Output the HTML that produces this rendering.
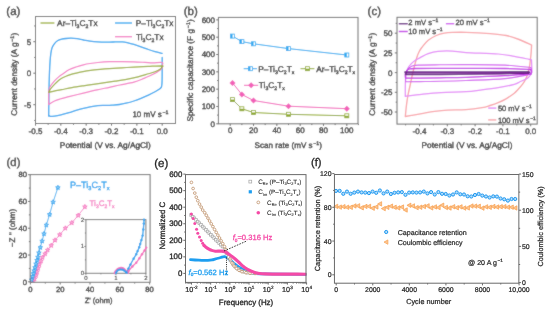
<!DOCTYPE html>
<html><head><meta charset="utf-8"><style>
html,body{margin:0;padding:0;background:#fff;}
svg{display:block;will-change:transform;}
text{font-family:"Liberation Sans", sans-serif;text-rendering:geometricPrecision;}
</style></head><body>
<svg xmlns="http://www.w3.org/2000/svg" width="550" height="311" viewBox="0 0 550 311">
<defs><filter id="bl" x="0" y="0" width="550" height="311" filterUnits="userSpaceOnUse"><feConvolveMatrix order="3" kernelMatrix="1 2 1 2 20 2 1 2 1" divisor="32" edgeMode="duplicate"/></filter></defs>
<rect width="550" height="311" fill="#fff"/>
<g filter="url(#bl)">
<rect width="550" height="311" fill="#fff"/>
<text x="6.3" y="14.9" font-size="11.5" text-anchor="start" fill="#262626" stroke="#262626" stroke-width="0.3"  style=""><tspan>(a)</tspan></text>
<path d="M48.70,115.90 C48.72,114.08 48.77,108.48 48.80,105.00 C48.83,101.52 48.85,98.33 48.90,95.00 C48.95,91.67 49.00,88.83 49.10,85.00 C49.20,81.17 49.33,76.00 49.50,72.00 C49.67,68.00 49.88,64.03 50.10,61.00 C50.32,57.97 50.48,55.97 50.80,53.80 C51.12,51.63 51.38,49.68 52.00,48.00 C52.62,46.32 53.58,44.90 54.50,43.70 C55.42,42.50 56.30,41.55 57.50,40.80 C58.70,40.05 60.28,39.58 61.70,39.20 C63.12,38.82 64.43,38.67 66.00,38.50 C67.57,38.33 69.27,38.17 71.10,38.20 C72.93,38.23 74.95,38.40 77.00,38.70 C79.05,39.00 81.23,39.60 83.40,40.00 C85.57,40.40 87.58,40.78 90.00,41.10 C92.42,41.42 95.40,41.72 97.90,41.90 C100.40,42.08 102.48,42.18 105.00,42.20 C107.52,42.22 110.10,42.05 113.00,42.00 C115.90,41.95 119.90,41.77 122.40,41.90 C124.90,42.03 126.08,42.38 128.00,42.80 C129.92,43.22 131.73,43.73 133.90,44.40 C136.07,45.07 138.58,45.95 141.00,46.80 C143.42,47.65 146.07,48.70 148.40,49.50 C150.73,50.30 152.72,50.97 155.00,51.60 C157.28,52.23 160.92,53.02 162.10,53.30" stroke="#2aa3ef" stroke-width="1.3" fill="none" stroke-linejoin="round" stroke-linecap="round" />
<path d="M162.20,57.40 C162.20,59.50 162.22,66.23 162.20,70.00 C162.18,73.77 162.17,77.50 162.10,80.00 C162.03,82.50 162.03,83.67 161.80,85.00 C161.57,86.33 161.83,86.87 160.70,88.00 C159.57,89.13 157.05,90.60 155.00,91.80 C152.95,93.00 150.73,94.10 148.40,95.20 C146.07,96.30 143.42,97.43 141.00,98.40 C138.58,99.37 136.40,100.20 133.90,101.00 C131.40,101.80 128.40,102.62 126.00,103.20 C123.60,103.78 121.83,104.18 119.50,104.50 C117.17,104.82 114.42,104.95 112.00,105.10 C109.58,105.25 107.35,105.32 105.00,105.40 C102.65,105.48 100.40,105.37 97.90,105.60 C95.40,105.83 92.42,106.35 90.00,106.80 C87.58,107.25 85.73,107.70 83.40,108.30 C81.07,108.90 78.42,109.68 76.00,110.40 C73.58,111.12 71.40,111.85 68.90,112.60 C66.40,113.35 63.40,114.30 61.00,114.90 C58.60,115.50 56.25,115.97 54.50,116.20 C52.75,116.43 51.47,116.35 50.50,116.30 C49.53,116.25 49.00,115.97 48.70,115.90" stroke="#2aa3ef" stroke-width="1.3" fill="none" stroke-linejoin="round" stroke-linecap="round" />
<path d="M48.70,104.60 C48.70,103.33 48.68,99.43 48.70,97.00 C48.72,94.57 48.50,91.83 48.80,90.00 C49.10,88.17 49.55,87.53 50.50,86.00 C51.45,84.47 53.08,82.37 54.50,80.80 C55.92,79.23 57.57,77.77 59.00,76.60 C60.43,75.43 61.45,74.93 63.10,73.80 C64.75,72.67 66.75,70.93 68.90,69.80 C71.05,68.67 73.58,67.83 76.00,67.00 C78.42,66.17 81.07,65.38 83.40,64.80 C85.73,64.22 87.58,63.88 90.00,63.50 C92.42,63.12 94.67,62.80 97.90,62.50 C101.13,62.20 105.38,61.85 109.40,61.70 C113.42,61.55 117.92,61.58 122.00,61.60 C126.08,61.62 130.07,61.67 133.90,61.80 C137.73,61.93 141.87,62.22 145.00,62.40 C148.13,62.58 149.85,62.88 152.70,62.90 C155.55,62.92 160.52,62.07 162.10,62.50 C163.68,62.93 162.20,64.53 162.20,65.50 C162.20,66.47 162.63,67.42 162.10,68.30 C161.57,69.18 160.08,70.02 159.00,70.80 C157.92,71.58 157.10,72.17 155.60,73.00 C154.10,73.83 151.93,74.90 150.00,75.80 C148.07,76.70 146.68,77.33 144.00,78.40 C141.32,79.47 137.90,81.10 133.90,82.20 C129.90,83.30 124.08,84.15 120.00,85.00 C115.92,85.85 113.23,86.48 109.40,87.30 C105.57,88.12 101.33,88.93 97.00,89.90 C92.67,90.87 88.08,91.97 83.40,93.10 C78.72,94.23 72.80,95.72 68.90,96.70 C65.00,97.68 62.40,98.28 60.00,99.00 C57.60,99.72 56.38,100.07 54.50,101.00 C52.62,101.93 49.67,104.00 48.70,104.60" stroke="#f47cc4" stroke-width="1.2" fill="none" stroke-linejoin="round" stroke-linecap="round" />
<path d="M48.70,92.40 C49.00,91.83 49.53,90.33 50.50,89.00 C51.47,87.67 53.12,85.85 54.50,84.40 C55.88,82.95 57.60,81.32 58.80,80.30 C60.00,79.28 60.50,78.98 61.70,78.30 C62.90,77.62 64.55,76.82 66.00,76.20 C67.45,75.58 68.70,75.12 70.40,74.60 C72.10,74.08 74.10,73.60 76.20,73.10 C78.30,72.60 80.60,72.05 83.00,71.60 C85.40,71.15 87.77,70.77 90.60,70.40 C93.43,70.03 96.87,69.70 100.00,69.40 C103.13,69.10 105.73,68.87 109.40,68.60 C113.07,68.33 117.92,68.05 122.00,67.80 C126.08,67.55 129.57,67.33 133.90,67.10 C138.23,66.87 143.30,66.62 148.00,66.40 C152.70,66.18 159.75,65.73 162.10,65.80 C164.45,65.87 162.45,66.22 162.10,66.80 C161.75,67.38 161.18,68.47 160.00,69.30 C158.82,70.13 156.93,71.05 155.00,71.80 C153.07,72.55 151.23,72.95 148.40,73.80 C145.57,74.65 141.87,75.93 138.00,76.90 C134.13,77.87 129.03,78.88 125.20,79.60 C121.37,80.32 118.37,80.70 115.00,81.20 C111.63,81.70 108.33,82.12 105.00,82.60 C101.67,83.08 98.60,83.57 95.00,84.10 C91.40,84.63 87.23,85.22 83.40,85.80 C79.57,86.38 75.62,86.97 72.00,87.60 C68.38,88.23 64.70,89.02 61.70,89.60 C58.70,90.18 56.17,90.63 54.00,91.10 C51.83,91.57 49.58,92.18 48.70,92.40" stroke="#9aae3a" stroke-width="1.2" fill="none" stroke-linejoin="round" stroke-linecap="round" />
<rect x="35.5" y="16.5" width="140.0" height="107.0" fill="none" stroke="#6a6a6a" stroke-width="1"/>
<line x1="35.50" y1="123.50" x2="35.50" y2="125.70" stroke="#6a6a6a" stroke-width="1" />
<line x1="60.84" y1="123.50" x2="60.84" y2="125.70" stroke="#6a6a6a" stroke-width="1" />
<line x1="86.18" y1="123.50" x2="86.18" y2="125.70" stroke="#6a6a6a" stroke-width="1" />
<line x1="111.52" y1="123.50" x2="111.52" y2="125.70" stroke="#6a6a6a" stroke-width="1" />
<line x1="136.86" y1="123.50" x2="136.86" y2="125.70" stroke="#6a6a6a" stroke-width="1" />
<line x1="162.20" y1="123.50" x2="162.20" y2="125.70" stroke="#6a6a6a" stroke-width="1" />
<line x1="48.17" y1="123.50" x2="48.17" y2="124.80" stroke="#6a6a6a" stroke-width="1" />
<line x1="73.51" y1="123.50" x2="73.51" y2="124.80" stroke="#6a6a6a" stroke-width="1" />
<line x1="98.85" y1="123.50" x2="98.85" y2="124.80" stroke="#6a6a6a" stroke-width="1" />
<line x1="124.19" y1="123.50" x2="124.19" y2="124.80" stroke="#6a6a6a" stroke-width="1" />
<line x1="149.53" y1="123.50" x2="149.53" y2="124.80" stroke="#6a6a6a" stroke-width="1" />
<text x="35.5" y="133.5" font-size="8" text-anchor="middle" fill="#262626" stroke="#262626" stroke-width="0.3"  style=""><tspan>-0.5</tspan></text>
<text x="60.839999999999996" y="133.5" font-size="8" text-anchor="middle" fill="#262626" stroke="#262626" stroke-width="0.3"  style=""><tspan>-0.4</tspan></text>
<text x="86.18" y="133.5" font-size="8" text-anchor="middle" fill="#262626" stroke="#262626" stroke-width="0.3"  style=""><tspan>-0.3</tspan></text>
<text x="111.52" y="133.5" font-size="8" text-anchor="middle" fill="#262626" stroke="#262626" stroke-width="0.3"  style=""><tspan>-0.2</tspan></text>
<text x="136.86" y="133.5" font-size="8" text-anchor="middle" fill="#262626" stroke="#262626" stroke-width="0.3"  style=""><tspan>-0.1</tspan></text>
<text x="162.2" y="133.5" font-size="8" text-anchor="middle" fill="#262626" stroke="#262626" stroke-width="0.3"  style=""><tspan>0.0</tspan></text>
<line x1="35.50" y1="104.70" x2="33.30" y2="104.70" stroke="#6a6a6a" stroke-width="1" />
<line x1="35.50" y1="73.20" x2="33.30" y2="73.20" stroke="#6a6a6a" stroke-width="1" />
<line x1="35.50" y1="41.70" x2="33.30" y2="41.70" stroke="#6a6a6a" stroke-width="1" />
<line x1="35.50" y1="120.45" x2="34.20" y2="120.45" stroke="#6a6a6a" stroke-width="1" />
<line x1="35.50" y1="88.95" x2="34.20" y2="88.95" stroke="#6a6a6a" stroke-width="1" />
<line x1="35.50" y1="57.45" x2="34.20" y2="57.45" stroke="#6a6a6a" stroke-width="1" />
<line x1="35.50" y1="25.95" x2="34.20" y2="25.95" stroke="#6a6a6a" stroke-width="1" />
<text x="31.2" y="107.60000000000001" font-size="8" text-anchor="end" fill="#262626" stroke="#262626" stroke-width="0.3"  style=""><tspan>-5</tspan></text>
<text x="31.2" y="76.10000000000001" font-size="8" text-anchor="end" fill="#262626" stroke="#262626" stroke-width="0.3"  style=""><tspan>0</tspan></text>
<text x="31.2" y="44.6" font-size="8" text-anchor="end" fill="#262626" stroke="#262626" stroke-width="0.3"  style=""><tspan>5</tspan></text>
<text x="105.3" y="148.3" font-size="8.3" text-anchor="middle" fill="#262626" stroke="#262626" stroke-width="0.3"  style=""><tspan>Potential (V vs. Ag/AgCl)</tspan></text>
<text x="17.4" y="74.3" font-size="8.3" text-anchor="middle" fill="#262626" stroke="#262626" stroke-width="0.3" transform="rotate(-90 17.4 74.3)"  style=""><tspan>Current density (A g</tspan><tspan dy="-3.15" dx="0.66" font-size="5.48">−1</tspan><tspan dy="3.15">)</tspan></text>
<line x1="40.50" y1="23.00" x2="54.40" y2="23.00" stroke="#9aae3a" stroke-width="1.3" />
<text x="57.1" y="26" font-size="8.3" text-anchor="start" fill="#262626" stroke="#262626" stroke-width="0.3"  style=""><tspan>Ar–Ti</tspan><tspan dy="1.83" font-size="5.15">3</tspan><tspan dy="-1.83">C</tspan><tspan dy="1.83" font-size="5.15">2</tspan><tspan dy="-1.83">Tx</tspan></text>
<line x1="115.00" y1="23.00" x2="132.00" y2="23.00" stroke="#2aa3ef" stroke-width="1.3" />
<text x="135.8" y="26" font-size="8.3" text-anchor="start" fill="#262626" stroke="#262626" stroke-width="0.3"  style=""><tspan>P–Ti</tspan><tspan dy="1.83" font-size="5.15">3</tspan><tspan dy="-1.83">C</tspan><tspan dy="1.83" font-size="5.15">2</tspan><tspan dy="-1.83">Tx</tspan></text>
<line x1="115.00" y1="36.70" x2="132.00" y2="36.70" stroke="#f47cc4" stroke-width="1.3" />
<text x="136" y="39.7" font-size="8.3" text-anchor="start" fill="#262626" stroke="#262626" stroke-width="0.3"  style=""><tspan>Ti</tspan><tspan dy="1.83" font-size="5.15">3</tspan><tspan dy="-1.83">C</tspan><tspan dy="1.83" font-size="5.15">2</tspan><tspan dy="-1.83">Tx</tspan></text>
<text x="132.4" y="116.7" font-size="8.0" text-anchor="start" fill="#262626" stroke="#262626" stroke-width="0.3"  style=""><tspan>10 mV s</tspan><tspan dy="-3.04" dx="0.64" font-size="5.28">−1</tspan></text>
<text x="183.7" y="14.9" font-size="11.5" text-anchor="start" fill="#262626" stroke="#262626" stroke-width="0.3"  style=""><tspan>(b)</tspan></text>
<path d="M232.53,36.10 L241.86,41.60 L253.52,43.80 L288.50,48.60 L346.80,55.00" stroke="#2aa8f0" stroke-width="1" fill="none"/>
<path d="M232.53,82.90 L241.86,94.50 L253.52,100.50 L288.50,106.20 L346.80,108.70" stroke="#f25fb8" stroke-width="1" fill="none"/>
<path d="M232.53,99.60 L241.86,108.80 L253.52,112.50 L288.50,114.30 L346.80,115.80" stroke="#8da828" stroke-width="1" fill="none"/>
<rect x="230.53" y="34.10" width="4.0" height="4.0" fill="#fff" stroke="#2aa8f0" stroke-width="0.8"/>
<rect x="230.53" y="34.10" width="2.00" height="4.0" fill="#2aa8f0"/>
<rect x="239.86" y="39.60" width="4.0" height="4.0" fill="#fff" stroke="#2aa8f0" stroke-width="0.8"/>
<rect x="239.86" y="39.60" width="2.00" height="4.0" fill="#2aa8f0"/>
<rect x="251.52" y="41.80" width="4.0" height="4.0" fill="#fff" stroke="#2aa8f0" stroke-width="0.8"/>
<rect x="251.52" y="41.80" width="2.00" height="4.0" fill="#2aa8f0"/>
<rect x="286.50" y="46.60" width="4.0" height="4.0" fill="#fff" stroke="#2aa8f0" stroke-width="0.8"/>
<rect x="286.50" y="46.60" width="2.00" height="4.0" fill="#2aa8f0"/>
<rect x="344.80" y="53.00" width="4.0" height="4.0" fill="#fff" stroke="#2aa8f0" stroke-width="0.8"/>
<rect x="344.80" y="53.00" width="2.00" height="4.0" fill="#2aa8f0"/>
<path d="M232.53,79.90 L235.53,82.90 L232.53,85.90 L229.53,82.90Z" fill="#f25fb8"/>
<path d="M241.86,91.50 L244.86,94.50 L241.86,97.50 L238.86,94.50Z" fill="#f25fb8"/>
<path d="M253.52,97.50 L256.52,100.50 L253.52,103.50 L250.52,100.50Z" fill="#f25fb8"/>
<path d="M288.50,103.20 L291.50,106.20 L288.50,109.20 L285.50,106.20Z" fill="#f25fb8"/>
<path d="M346.80,105.70 L349.80,108.70 L346.80,111.70 L343.80,108.70Z" fill="#f25fb8"/>
<rect x="230.53" y="97.60" width="4.0" height="4.0" fill="#fff" stroke="#8da828" stroke-width="0.8"/>
<rect x="230.53" y="99.60" width="4.0" height="2.00" fill="#8da828"/>
<rect x="239.86" y="106.80" width="4.0" height="4.0" fill="#fff" stroke="#8da828" stroke-width="0.8"/>
<rect x="239.86" y="108.80" width="4.0" height="2.00" fill="#8da828"/>
<rect x="251.52" y="110.50" width="4.0" height="4.0" fill="#fff" stroke="#8da828" stroke-width="0.8"/>
<rect x="251.52" y="112.50" width="4.0" height="2.00" fill="#8da828"/>
<rect x="286.50" y="112.30" width="4.0" height="4.0" fill="#fff" stroke="#8da828" stroke-width="0.8"/>
<rect x="286.50" y="114.30" width="4.0" height="2.00" fill="#8da828"/>
<rect x="344.80" y="113.80" width="4.0" height="4.0" fill="#fff" stroke="#8da828" stroke-width="0.8"/>
<rect x="344.80" y="115.80" width="4.0" height="2.00" fill="#8da828"/>
<rect x="218.4" y="17.4" width="139.6" height="106.4" fill="none" stroke="#6a6a6a" stroke-width="1"/>
<line x1="230.20" y1="123.80" x2="230.20" y2="126.00" stroke="#6a6a6a" stroke-width="1" />
<line x1="253.52" y1="123.80" x2="253.52" y2="126.00" stroke="#6a6a6a" stroke-width="1" />
<line x1="276.84" y1="123.80" x2="276.84" y2="126.00" stroke="#6a6a6a" stroke-width="1" />
<line x1="300.16" y1="123.80" x2="300.16" y2="126.00" stroke="#6a6a6a" stroke-width="1" />
<line x1="323.48" y1="123.80" x2="323.48" y2="126.00" stroke="#6a6a6a" stroke-width="1" />
<line x1="346.80" y1="123.80" x2="346.80" y2="126.00" stroke="#6a6a6a" stroke-width="1" />
<line x1="241.86" y1="123.80" x2="241.86" y2="125.10" stroke="#6a6a6a" stroke-width="1" />
<line x1="265.18" y1="123.80" x2="265.18" y2="125.10" stroke="#6a6a6a" stroke-width="1" />
<line x1="288.50" y1="123.80" x2="288.50" y2="125.10" stroke="#6a6a6a" stroke-width="1" />
<line x1="311.82" y1="123.80" x2="311.82" y2="125.10" stroke="#6a6a6a" stroke-width="1" />
<line x1="335.14" y1="123.80" x2="335.14" y2="125.10" stroke="#6a6a6a" stroke-width="1" />
<line x1="358.46" y1="123.80" x2="358.46" y2="125.10" stroke="#6a6a6a" stroke-width="1" />
<text x="230.2" y="133.2" font-size="8" text-anchor="middle" fill="#262626" stroke="#262626" stroke-width="0.3"  style=""><tspan>0</tspan></text>
<text x="253.51999999999998" y="133.2" font-size="8" text-anchor="middle" fill="#262626" stroke="#262626" stroke-width="0.3"  style=""><tspan>20</tspan></text>
<text x="276.84" y="133.2" font-size="8" text-anchor="middle" fill="#262626" stroke="#262626" stroke-width="0.3"  style=""><tspan>40</tspan></text>
<text x="300.15999999999997" y="133.2" font-size="8" text-anchor="middle" fill="#262626" stroke="#262626" stroke-width="0.3"  style=""><tspan>60</tspan></text>
<text x="323.48" y="133.2" font-size="8" text-anchor="middle" fill="#262626" stroke="#262626" stroke-width="0.3"  style=""><tspan>80</tspan></text>
<text x="346.79999999999995" y="133.2" font-size="8" text-anchor="middle" fill="#262626" stroke="#262626" stroke-width="0.3"  style=""><tspan>100</tspan></text>
<line x1="218.40" y1="123.80" x2="216.20" y2="123.80" stroke="#6a6a6a" stroke-width="1" />
<line x1="218.40" y1="106.48" x2="216.20" y2="106.48" stroke="#6a6a6a" stroke-width="1" />
<line x1="218.40" y1="89.16" x2="216.20" y2="89.16" stroke="#6a6a6a" stroke-width="1" />
<line x1="218.40" y1="71.84" x2="216.20" y2="71.84" stroke="#6a6a6a" stroke-width="1" />
<line x1="218.40" y1="54.52" x2="216.20" y2="54.52" stroke="#6a6a6a" stroke-width="1" />
<line x1="218.40" y1="37.20" x2="216.20" y2="37.20" stroke="#6a6a6a" stroke-width="1" />
<line x1="218.40" y1="19.88" x2="216.20" y2="19.88" stroke="#6a6a6a" stroke-width="1" />
<line x1="218.40" y1="115.14" x2="217.10" y2="115.14" stroke="#6a6a6a" stroke-width="1" />
<line x1="218.40" y1="97.82" x2="217.10" y2="97.82" stroke="#6a6a6a" stroke-width="1" />
<line x1="218.40" y1="80.50" x2="217.10" y2="80.50" stroke="#6a6a6a" stroke-width="1" />
<line x1="218.40" y1="63.18" x2="217.10" y2="63.18" stroke="#6a6a6a" stroke-width="1" />
<line x1="218.40" y1="45.86" x2="217.10" y2="45.86" stroke="#6a6a6a" stroke-width="1" />
<line x1="218.40" y1="28.54" x2="217.10" y2="28.54" stroke="#6a6a6a" stroke-width="1" />
<text x="215" y="126.7" font-size="8" text-anchor="end" fill="#262626" stroke="#262626" stroke-width="0.3"  style=""><tspan>0</tspan></text>
<text x="215" y="109.38" font-size="8" text-anchor="end" fill="#262626" stroke="#262626" stroke-width="0.3"  style=""><tspan>100</tspan></text>
<text x="215" y="92.06" font-size="8" text-anchor="end" fill="#262626" stroke="#262626" stroke-width="0.3"  style=""><tspan>200</tspan></text>
<text x="215" y="74.74000000000001" font-size="8" text-anchor="end" fill="#262626" stroke="#262626" stroke-width="0.3"  style=""><tspan>300</tspan></text>
<text x="215" y="57.419999999999995" font-size="8" text-anchor="end" fill="#262626" stroke="#262626" stroke-width="0.3"  style=""><tspan>400</tspan></text>
<text x="215" y="40.1" font-size="8" text-anchor="end" fill="#262626" stroke="#262626" stroke-width="0.3"  style=""><tspan>500</tspan></text>
<text x="215" y="22.779999999999994" font-size="8" text-anchor="end" fill="#262626" stroke="#262626" stroke-width="0.3"  style=""><tspan>600</tspan></text>
<text x="288.3" y="148.3" font-size="8.1" text-anchor="middle" fill="#262626" stroke="#262626" stroke-width="0.3"  style=""><tspan>Scan rate (mV s</tspan><tspan dy="-3.08" dx="0.65" font-size="5.35">−1</tspan><tspan dy="3.08">)</tspan></text>
<text x="193.3" y="70.4" font-size="8.3" text-anchor="middle" fill="#262626" stroke="#262626" stroke-width="0.3" transform="rotate(-90 193.3 70.4)"  style=""><tspan>Specific capacitance (F g</tspan><tspan dy="-3.15" dx="0.66" font-size="5.48">−1</tspan><tspan dy="3.15">)</tspan></text>
<line x1="243.70" y1="68.70" x2="257.00" y2="68.70" stroke="#2aa8f0" stroke-width="1" />
<rect x="248.40" y="66.70" width="4.0" height="4.0" fill="#fff" stroke="#2aa8f0" stroke-width="0.8"/>
<rect x="248.40" y="66.70" width="2.00" height="4.0" fill="#2aa8f0"/>
<text x="258.2" y="71.7" font-size="8.3" text-anchor="start" fill="#262626" stroke="#262626" stroke-width="0.3"  style=""><tspan>P–Ti</tspan><tspan dy="1.83" font-size="5.15">3</tspan><tspan dy="-1.83">C</tspan><tspan dy="1.83" font-size="5.15">2</tspan><tspan dy="-1.83">T</tspan><tspan dy="1.83" font-size="5.15">x</tspan></text>
<line x1="300.50" y1="68.70" x2="314.40" y2="68.70" stroke="#8da828" stroke-width="1" />
<rect x="305.50" y="66.70" width="4.0" height="4.0" fill="#fff" stroke="#8da828" stroke-width="0.8"/>
<rect x="305.50" y="68.70" width="4.0" height="2.00" fill="#8da828"/>
<text x="316.3" y="71.7" font-size="8.3" text-anchor="start" fill="#262626" stroke="#262626" stroke-width="0.3"  style=""><tspan>Ar–Ti</tspan><tspan dy="1.83" font-size="5.15">3</tspan><tspan dy="-1.83">C</tspan><tspan dy="1.83" font-size="5.15">2</tspan><tspan dy="-1.83">T</tspan><tspan dy="1.83" font-size="5.15">x</tspan></text>
<line x1="244.00" y1="85.30" x2="258.20" y2="85.30" stroke="#f25fb8" stroke-width="1" />
<path d="M251.10,82.30 L254.10,85.30 L251.10,88.30 L248.10,85.30Z" fill="#f25fb8"/>
<text x="258.8" y="88.3" font-size="8.3" text-anchor="start" fill="#262626" stroke="#262626" stroke-width="0.3"  style=""><tspan>Ti</tspan><tspan dy="1.83" font-size="5.15">3</tspan><tspan dy="-1.83">C</tspan><tspan dy="1.83" font-size="5.15">2</tspan><tspan dy="-1.83">T</tspan><tspan dy="1.83" font-size="5.15">x</tspan></text>
<text x="367.6" y="14.9" font-size="11.5" text-anchor="start" fill="#262626" stroke="#262626" stroke-width="0.3"  style=""><tspan>(c)</tspan></text>
<path d="M405.30,116.50 C405.50,114.58 406.05,108.58 406.50,105.00 C406.95,101.42 407.38,98.33 408.00,95.00 C408.62,91.67 409.37,88.83 410.20,85.00 C411.03,81.17 411.88,76.63 413.00,72.00 C414.12,67.37 415.82,60.70 416.90,57.20 C417.98,53.70 418.68,52.62 419.50,51.00 C420.32,49.38 420.35,49.28 421.80,47.50 C423.25,45.72 425.78,42.30 428.20,40.30 C430.62,38.30 433.62,36.68 436.30,35.50 C438.98,34.32 441.62,33.72 444.30,33.20 C446.98,32.68 448.78,32.55 452.40,32.40 C456.02,32.25 459.72,32.10 466.00,32.30 C472.28,32.50 483.40,33.07 490.10,33.60 C496.80,34.13 501.37,34.52 506.20,35.50 C511.03,36.48 514.87,37.90 519.10,39.50 C523.33,41.10 529.52,44.17 531.60,45.10 L531.60,45.10 C531.53,46.25 531.37,49.85 531.20,52.00 C531.03,54.15 530.87,55.67 530.60,58.00 C530.33,60.33 530.02,63.60 529.60,66.00 C529.18,68.40 528.70,70.32 528.10,72.40 C527.50,74.48 526.88,76.58 526.00,78.50 C525.12,80.42 524.13,82.07 522.80,83.90 C521.47,85.73 519.42,87.95 518.00,89.50 C516.58,91.05 516.30,91.65 514.30,93.20 C512.30,94.75 508.68,97.23 506.00,98.80 C503.32,100.37 500.87,101.48 498.20,102.60 C495.53,103.72 492.68,104.67 490.00,105.50 C487.32,106.33 486.10,106.92 482.10,107.60 C478.10,108.28 471.77,109.18 466.00,109.60 C460.23,110.02 452.73,109.80 447.50,110.10 C442.27,110.40 438.90,110.82 434.60,111.40 C430.30,111.98 425.47,112.95 421.70,113.60 C417.93,114.25 414.73,114.82 412.00,115.30 C409.27,115.78 406.42,116.30 405.30,116.50" stroke="#f8a4aa" stroke-width="1.35" fill="none" stroke-linejoin="round" stroke-linecap="round" />
<path d="M405.30,96.30 C405.30,94.92 405.27,90.72 405.30,88.00 C405.33,85.28 405.35,82.33 405.50,80.00 C405.65,77.67 405.78,76.00 406.20,74.00 C406.62,72.00 407.20,69.67 408.00,68.00 C408.80,66.33 409.83,65.25 411.00,64.00 C412.17,62.75 413.47,61.57 415.00,60.50 C416.53,59.43 418.00,58.73 420.20,57.60 C422.40,56.47 425.25,54.73 428.20,53.70 C431.15,52.67 433.87,51.83 437.90,51.40 C441.93,50.97 447.72,50.90 452.40,51.10 C457.08,51.30 458.37,52.12 466.00,52.60 C473.63,53.08 490.15,53.37 498.20,54.00 C506.25,54.63 509.15,55.52 514.30,56.40 C519.45,57.28 526.23,58.73 529.10,59.30 C531.97,59.87 531.10,59.72 531.50,59.80 L531.50,59.80 C531.55,61.08 531.72,65.40 531.80,67.50 C531.88,69.60 531.97,71.58 532.00,72.40 L532.00,72.40 C531.35,73.28 530.18,76.10 528.10,77.70 C526.02,79.30 521.80,80.90 519.50,82.00 C517.20,83.10 517.85,83.35 514.30,84.30 C510.75,85.25 503.92,86.72 498.20,87.70 C492.48,88.68 485.37,89.53 480.00,90.20 C474.63,90.87 472.50,91.30 466.00,91.70 C459.50,92.10 448.38,92.17 441.00,92.60 C433.62,93.03 427.65,93.68 421.70,94.30 C415.75,94.92 408.03,95.97 405.30,96.30 L405.30,96.30 C405.30,96.30 405.30,96.30 405.30,96.30" stroke="#e48af7" stroke-width="1.25" fill="none" stroke-linejoin="round" stroke-linecap="round" />
<path d="M405.60,81.80 C405.57,80.83 405.40,77.47 405.40,76.00 C405.40,74.53 405.25,74.08 405.60,73.00 C405.95,71.92 406.83,70.40 407.50,69.50 C408.17,68.60 408.68,68.22 409.60,67.60 C410.52,66.98 411.52,66.22 413.00,65.80 C414.48,65.38 414.00,65.27 418.50,65.10 C423.00,64.93 432.08,64.88 440.00,64.80 C447.92,64.72 455.17,64.55 466.00,64.60 C476.83,64.65 494.17,64.62 505.00,65.10 C515.83,65.58 526.67,67.10 531.00,67.50 L531.00,67.50 C531.08,68.08 531.45,69.87 531.50,71.00 C531.55,72.13 531.33,73.75 531.30,74.30 L531.30,74.30 C526.92,75.02 515.88,77.57 505.00,78.60 C494.12,79.63 476.83,80.05 466.00,80.50 C455.17,80.95 447.67,81.12 440.00,81.30 C432.33,81.48 425.73,81.52 420.00,81.60 C414.27,81.68 408.00,81.77 405.60,81.80" stroke="#d35cf0" stroke-width="1.15" fill="none" stroke-linejoin="round" stroke-linecap="round" />
<path d="M405.60,78.20 C405.57,77.58 405.25,75.70 405.40,74.50 C405.55,73.30 405.90,71.88 406.50,71.00 C407.10,70.12 407.58,69.62 409.00,69.20 C410.42,68.78 409.83,68.63 415.00,68.50 C420.17,68.37 431.50,68.42 440.00,68.40 C448.50,68.38 455.17,68.38 466.00,68.40 C476.83,68.42 494.17,68.32 505.00,68.50 C515.83,68.68 526.67,69.33 531.00,69.50 L531.00,69.50 C531.05,69.88 531.30,71.08 531.30,71.80 C531.30,72.52 531.05,73.47 531.00,73.80 L531.00,73.80 C526.67,74.12 515.83,75.12 505.00,75.70 C494.17,76.28 476.83,76.95 466.00,77.30 C455.17,77.65 447.67,77.67 440.00,77.80 C432.33,77.93 425.73,78.03 420.00,78.10 C414.27,78.17 408.00,78.18 405.60,78.20" stroke="#c22ee6" stroke-width="1.3" fill="none" stroke-linejoin="round" stroke-linecap="round" />
<path d="M405.60,74.40 C405.63,74.10 405.40,73.00 405.80,72.60 C406.20,72.20 402.30,72.12 408.00,72.00 C413.70,71.88 428.00,71.90 440.00,71.90 C452.00,71.90 465.23,72.03 480.00,72.00 C494.77,71.97 520.50,71.75 528.60,71.70 L528.60,71.70 C528.75,71.82 529.50,72.15 529.50,72.40 C529.50,72.65 528.75,73.07 528.60,73.20 L528.60,73.20 C520.50,73.33 494.77,73.80 480.00,74.00 C465.23,74.20 451.67,74.30 440.00,74.40 C428.33,74.50 415.73,74.60 410.00,74.60 C404.27,74.60 406.33,74.43 405.60,74.40Z" stroke="#6a1a86" stroke-width="1.5" fill="#6a1a86" fill-opacity="0.55" stroke-linejoin="round"/>
<rect x="397.0" y="17.3" width="140.20000000000005" height="106.8" fill="none" stroke="#6a6a6a" stroke-width="1"/>
<line x1="419.50" y1="124.10" x2="419.50" y2="126.30" stroke="#6a6a6a" stroke-width="1" />
<line x1="447.30" y1="124.10" x2="447.30" y2="126.30" stroke="#6a6a6a" stroke-width="1" />
<line x1="475.10" y1="124.10" x2="475.10" y2="126.30" stroke="#6a6a6a" stroke-width="1" />
<line x1="502.90" y1="124.10" x2="502.90" y2="126.30" stroke="#6a6a6a" stroke-width="1" />
<line x1="530.70" y1="124.10" x2="530.70" y2="126.30" stroke="#6a6a6a" stroke-width="1" />
<line x1="405.60" y1="124.10" x2="405.60" y2="125.40" stroke="#6a6a6a" stroke-width="1" />
<line x1="433.40" y1="124.10" x2="433.40" y2="125.40" stroke="#6a6a6a" stroke-width="1" />
<line x1="461.20" y1="124.10" x2="461.20" y2="125.40" stroke="#6a6a6a" stroke-width="1" />
<line x1="489.00" y1="124.10" x2="489.00" y2="125.40" stroke="#6a6a6a" stroke-width="1" />
<line x1="516.80" y1="124.10" x2="516.80" y2="125.40" stroke="#6a6a6a" stroke-width="1" />
<text x="419.50000000000006" y="133.5" font-size="8" text-anchor="middle" fill="#262626" stroke="#262626" stroke-width="0.3"  style=""><tspan>-0.4</tspan></text>
<text x="447.30000000000007" y="133.5" font-size="8" text-anchor="middle" fill="#262626" stroke="#262626" stroke-width="0.3"  style=""><tspan>-0.3</tspan></text>
<text x="475.1" y="133.5" font-size="8" text-anchor="middle" fill="#262626" stroke="#262626" stroke-width="0.3"  style=""><tspan>-0.2</tspan></text>
<text x="502.90000000000003" y="133.5" font-size="8" text-anchor="middle" fill="#262626" stroke="#262626" stroke-width="0.3"  style=""><tspan>-0.1</tspan></text>
<text x="530.7" y="133.5" font-size="8" text-anchor="middle" fill="#262626" stroke="#262626" stroke-width="0.3"  style=""><tspan>0.0</tspan></text>
<line x1="397.00" y1="112.00" x2="394.80" y2="112.00" stroke="#6a6a6a" stroke-width="1" />
<line x1="397.00" y1="92.30" x2="394.80" y2="92.30" stroke="#6a6a6a" stroke-width="1" />
<line x1="397.00" y1="72.60" x2="394.80" y2="72.60" stroke="#6a6a6a" stroke-width="1" />
<line x1="397.00" y1="52.90" x2="394.80" y2="52.90" stroke="#6a6a6a" stroke-width="1" />
<line x1="397.00" y1="33.20" x2="394.80" y2="33.20" stroke="#6a6a6a" stroke-width="1" />
<line x1="397.00" y1="102.15" x2="395.70" y2="102.15" stroke="#6a6a6a" stroke-width="1" />
<line x1="397.00" y1="82.45" x2="395.70" y2="82.45" stroke="#6a6a6a" stroke-width="1" />
<line x1="397.00" y1="62.75" x2="395.70" y2="62.75" stroke="#6a6a6a" stroke-width="1" />
<line x1="397.00" y1="43.05" x2="395.70" y2="43.05" stroke="#6a6a6a" stroke-width="1" />
<line x1="397.00" y1="23.35" x2="395.70" y2="23.35" stroke="#6a6a6a" stroke-width="1" />
<text x="392.5" y="114.9" font-size="8" text-anchor="end" fill="#262626" stroke="#262626" stroke-width="0.3"  style=""><tspan>-50</tspan></text>
<text x="392.5" y="95.2" font-size="8" text-anchor="end" fill="#262626" stroke="#262626" stroke-width="0.3"  style=""><tspan>-25</tspan></text>
<text x="392.5" y="75.5" font-size="8" text-anchor="end" fill="#262626" stroke="#262626" stroke-width="0.3"  style=""><tspan>0</tspan></text>
<text x="392.5" y="55.79999999999999" font-size="8" text-anchor="end" fill="#262626" stroke="#262626" stroke-width="0.3"  style=""><tspan>25</tspan></text>
<text x="392.5" y="36.099999999999994" font-size="8" text-anchor="end" fill="#262626" stroke="#262626" stroke-width="0.3"  style=""><tspan>50</tspan></text>
<text x="467" y="148.3" font-size="8.3" text-anchor="middle" fill="#262626" stroke="#262626" stroke-width="0.3"  style=""><tspan>Potential (V vs. Ag/AgCl)</tspan></text>
<text x="375.3" y="74.3" font-size="8.3" text-anchor="middle" fill="#262626" stroke="#262626" stroke-width="0.3" transform="rotate(-90 375.3 74.3)"  style=""><tspan>Current density (A g</tspan><tspan dy="-3.15" dx="0.66" font-size="5.48">−1</tspan><tspan dy="3.15">)</tspan></text>
<line x1="398.80" y1="23.70" x2="407.70" y2="23.70" stroke="#6a1a86" stroke-width="1.4" />
<text x="408.3" y="25.3" font-size="7.6" text-anchor="start" fill="#262626" stroke="#262626" stroke-width="0.3"  style=""><tspan>2 mV s</tspan><tspan dy="-2.89" dx="0.61" font-size="5.02">−1</tspan></text>
<line x1="398.80" y1="31.50" x2="407.70" y2="31.50" stroke="#c22ee6" stroke-width="1.4" />
<text x="408.3" y="34.1" font-size="7.6" text-anchor="start" fill="#262626" stroke="#262626" stroke-width="0.3"  style=""><tspan>10 mV s</tspan><tspan dy="-2.89" dx="0.61" font-size="5.02">−1</tspan></text>
<line x1="445.90" y1="23.70" x2="454.20" y2="23.70" stroke="#d35cf0" stroke-width="1.4" />
<text x="455.6" y="25.3" font-size="7.6" text-anchor="start" fill="#262626" stroke="#262626" stroke-width="0.3"  style=""><tspan>20 mV s</tspan><tspan dy="-2.89" dx="0.61" font-size="5.02">−1</tspan></text>
<line x1="488.20" y1="108.10" x2="496.30" y2="108.10" stroke="#e48af7" stroke-width="1.4" />
<text x="497.9" y="110.8" font-size="7.5" text-anchor="start" fill="#262626" stroke="#262626" stroke-width="0.3"  style=""><tspan>50 mV s</tspan><tspan dy="-2.85" dx="0.60" font-size="4.95">−1</tspan></text>
<line x1="488.20" y1="119.90" x2="496.30" y2="119.90" stroke="#f8a4aa" stroke-width="1.4" />
<text x="497.9" y="122.6" font-size="7.5" text-anchor="start" fill="#262626" stroke="#262626" stroke-width="0.3"  style=""><tspan>100 mV s</tspan><tspan dy="-2.85" dx="0.60" font-size="4.95">−1</tspan></text>
<text x="6.6" y="165.7" font-size="11.3" text-anchor="start" fill="#262626" stroke="#262626" stroke-width="0.3"  style=""><tspan>(d)</tspan></text>
<path d="M33.00,280.50 L34.50,279.10 L36.00,275.50 L37.00,271.90 L38.10,268.30 L39.30,264.60 L41.00,261.00 L42.50,257.40 L45.10,253.80 L47.60,250.10 L51.20,245.50 L55.00,240.20 L59.80,234.70 L65.30,228.20 L71.80,222.80 L78.20,215.40 L84.90,206.80" stroke="#f46cbc" stroke-width="0.8" fill="none"/>
<path d="M31.60,279.90 L32.60,276.50 L33.50,273.60 L34.10,270.70 L35.00,267.50 L36.00,263.90 L37.00,260.30 L37.90,257.10 L38.90,252.80 L40.30,247.50 L42.10,241.10 L44.00,233.80 L46.30,225.10 L49.60,214.50 L53.10,202.10 L57.90,187.60" stroke="#25a0ee" stroke-width="0.8" fill="none"/>
<path d="M33.00,278.10 L33.63,279.63 L35.28,279.76 L34.03,280.83 L34.41,282.44 L33.00,281.58 L31.59,282.44 L31.97,280.83 L30.72,279.76 L32.37,279.63Z" fill="#f9b0d8" stroke="#f46cbc" stroke-width="0.8" stroke-linejoin="round"/>
<path d="M34.50,276.70 L35.13,278.23 L36.78,278.36 L35.53,279.43 L35.91,281.04 L34.50,280.18 L33.09,281.04 L33.47,279.43 L32.22,278.36 L33.87,278.23Z" fill="#f9b0d8" stroke="#f46cbc" stroke-width="0.8" stroke-linejoin="round"/>
<path d="M36.00,273.10 L36.63,274.63 L38.28,274.76 L37.03,275.83 L37.41,277.44 L36.00,276.58 L34.59,277.44 L34.97,275.83 L33.72,274.76 L35.37,274.63Z" fill="#f9b0d8" stroke="#f46cbc" stroke-width="0.8" stroke-linejoin="round"/>
<path d="M37.00,269.50 L37.63,271.03 L39.28,271.16 L38.03,272.23 L38.41,273.84 L37.00,272.98 L35.59,273.84 L35.97,272.23 L34.72,271.16 L36.37,271.03Z" fill="#f9b0d8" stroke="#f46cbc" stroke-width="0.8" stroke-linejoin="round"/>
<path d="M38.10,265.90 L38.73,267.43 L40.38,267.56 L39.13,268.63 L39.51,270.24 L38.10,269.38 L36.69,270.24 L37.07,268.63 L35.82,267.56 L37.47,267.43Z" fill="#f9b0d8" stroke="#f46cbc" stroke-width="0.8" stroke-linejoin="round"/>
<path d="M39.30,262.20 L39.93,263.73 L41.58,263.86 L40.33,264.93 L40.71,266.54 L39.30,265.68 L37.89,266.54 L38.27,264.93 L37.02,263.86 L38.67,263.73Z" fill="#f9b0d8" stroke="#f46cbc" stroke-width="0.8" stroke-linejoin="round"/>
<path d="M41.00,258.60 L41.63,260.13 L43.28,260.26 L42.03,261.33 L42.41,262.94 L41.00,262.08 L39.59,262.94 L39.97,261.33 L38.72,260.26 L40.37,260.13Z" fill="#f9b0d8" stroke="#f46cbc" stroke-width="0.8" stroke-linejoin="round"/>
<path d="M42.50,255.00 L43.13,256.53 L44.78,256.66 L43.53,257.73 L43.91,259.34 L42.50,258.48 L41.09,259.34 L41.47,257.73 L40.22,256.66 L41.87,256.53Z" fill="#f9b0d8" stroke="#f46cbc" stroke-width="0.8" stroke-linejoin="round"/>
<path d="M45.10,251.40 L45.73,252.93 L47.38,253.06 L46.13,254.13 L46.51,255.74 L45.10,254.88 L43.69,255.74 L44.07,254.13 L42.82,253.06 L44.47,252.93Z" fill="#f9b0d8" stroke="#f46cbc" stroke-width="0.8" stroke-linejoin="round"/>
<path d="M47.60,247.70 L48.23,249.23 L49.88,249.36 L48.63,250.43 L49.01,252.04 L47.60,251.18 L46.19,252.04 L46.57,250.43 L45.32,249.36 L46.97,249.23Z" fill="#f9b0d8" stroke="#f46cbc" stroke-width="0.8" stroke-linejoin="round"/>
<path d="M51.20,243.10 L51.83,244.63 L53.48,244.76 L52.23,245.83 L52.61,247.44 L51.20,246.58 L49.79,247.44 L50.17,245.83 L48.92,244.76 L50.57,244.63Z" fill="#f9b0d8" stroke="#f46cbc" stroke-width="0.8" stroke-linejoin="round"/>
<path d="M55.00,237.80 L55.63,239.33 L57.28,239.46 L56.03,240.53 L56.41,242.14 L55.00,241.28 L53.59,242.14 L53.97,240.53 L52.72,239.46 L54.37,239.33Z" fill="#f9b0d8" stroke="#f46cbc" stroke-width="0.8" stroke-linejoin="round"/>
<path d="M59.80,232.30 L60.43,233.83 L62.08,233.96 L60.83,235.03 L61.21,236.64 L59.80,235.78 L58.39,236.64 L58.77,235.03 L57.52,233.96 L59.17,233.83Z" fill="#f9b0d8" stroke="#f46cbc" stroke-width="0.8" stroke-linejoin="round"/>
<path d="M65.30,225.80 L65.93,227.33 L67.58,227.46 L66.33,228.53 L66.71,230.14 L65.30,229.28 L63.89,230.14 L64.27,228.53 L63.02,227.46 L64.67,227.33Z" fill="#f9b0d8" stroke="#f46cbc" stroke-width="0.8" stroke-linejoin="round"/>
<path d="M71.80,220.40 L72.43,221.93 L74.08,222.06 L72.83,223.13 L73.21,224.74 L71.80,223.88 L70.39,224.74 L70.77,223.13 L69.52,222.06 L71.17,221.93Z" fill="#f9b0d8" stroke="#f46cbc" stroke-width="0.8" stroke-linejoin="round"/>
<path d="M78.20,213.00 L78.83,214.53 L80.48,214.66 L79.23,215.73 L79.61,217.34 L78.20,216.48 L76.79,217.34 L77.17,215.73 L75.92,214.66 L77.57,214.53Z" fill="#f9b0d8" stroke="#f46cbc" stroke-width="0.8" stroke-linejoin="round"/>
<path d="M84.90,204.40 L85.53,205.93 L87.18,206.06 L85.93,207.13 L86.31,208.74 L84.90,207.88 L83.49,208.74 L83.87,207.13 L82.62,206.06 L84.27,205.93Z" fill="#f9b0d8" stroke="#f46cbc" stroke-width="0.8" stroke-linejoin="round"/>
<path d="M31.60,277.50 L32.23,279.03 L33.88,279.16 L32.63,280.23 L33.01,281.84 L31.60,280.98 L30.19,281.84 L30.57,280.23 L29.32,279.16 L30.97,279.03Z" fill="#8ccdf7" stroke="#25a0ee" stroke-width="0.8" stroke-linejoin="round"/>
<path d="M32.60,274.10 L33.23,275.63 L34.88,275.76 L33.63,276.83 L34.01,278.44 L32.60,277.58 L31.19,278.44 L31.57,276.83 L30.32,275.76 L31.97,275.63Z" fill="#8ccdf7" stroke="#25a0ee" stroke-width="0.8" stroke-linejoin="round"/>
<path d="M33.50,271.20 L34.13,272.73 L35.78,272.86 L34.53,273.93 L34.91,275.54 L33.50,274.68 L32.09,275.54 L32.47,273.93 L31.22,272.86 L32.87,272.73Z" fill="#8ccdf7" stroke="#25a0ee" stroke-width="0.8" stroke-linejoin="round"/>
<path d="M34.10,268.30 L34.73,269.83 L36.38,269.96 L35.13,271.03 L35.51,272.64 L34.10,271.78 L32.69,272.64 L33.07,271.03 L31.82,269.96 L33.47,269.83Z" fill="#8ccdf7" stroke="#25a0ee" stroke-width="0.8" stroke-linejoin="round"/>
<path d="M35.00,265.10 L35.63,266.63 L37.28,266.76 L36.03,267.83 L36.41,269.44 L35.00,268.58 L33.59,269.44 L33.97,267.83 L32.72,266.76 L34.37,266.63Z" fill="#8ccdf7" stroke="#25a0ee" stroke-width="0.8" stroke-linejoin="round"/>
<path d="M36.00,261.50 L36.63,263.03 L38.28,263.16 L37.03,264.23 L37.41,265.84 L36.00,264.98 L34.59,265.84 L34.97,264.23 L33.72,263.16 L35.37,263.03Z" fill="#8ccdf7" stroke="#25a0ee" stroke-width="0.8" stroke-linejoin="round"/>
<path d="M37.00,257.90 L37.63,259.43 L39.28,259.56 L38.03,260.63 L38.41,262.24 L37.00,261.38 L35.59,262.24 L35.97,260.63 L34.72,259.56 L36.37,259.43Z" fill="#8ccdf7" stroke="#25a0ee" stroke-width="0.8" stroke-linejoin="round"/>
<path d="M37.90,254.70 L38.53,256.23 L40.18,256.36 L38.93,257.43 L39.31,259.04 L37.90,258.18 L36.49,259.04 L36.87,257.43 L35.62,256.36 L37.27,256.23Z" fill="#8ccdf7" stroke="#25a0ee" stroke-width="0.8" stroke-linejoin="round"/>
<path d="M38.90,250.40 L39.53,251.93 L41.18,252.06 L39.93,253.13 L40.31,254.74 L38.90,253.88 L37.49,254.74 L37.87,253.13 L36.62,252.06 L38.27,251.93Z" fill="#8ccdf7" stroke="#25a0ee" stroke-width="0.8" stroke-linejoin="round"/>
<path d="M40.30,245.10 L40.93,246.63 L42.58,246.76 L41.33,247.83 L41.71,249.44 L40.30,248.58 L38.89,249.44 L39.27,247.83 L38.02,246.76 L39.67,246.63Z" fill="#8ccdf7" stroke="#25a0ee" stroke-width="0.8" stroke-linejoin="round"/>
<path d="M42.10,238.70 L42.73,240.23 L44.38,240.36 L43.13,241.43 L43.51,243.04 L42.10,242.18 L40.69,243.04 L41.07,241.43 L39.82,240.36 L41.47,240.23Z" fill="#8ccdf7" stroke="#25a0ee" stroke-width="0.8" stroke-linejoin="round"/>
<path d="M44.00,231.40 L44.63,232.93 L46.28,233.06 L45.03,234.13 L45.41,235.74 L44.00,234.88 L42.59,235.74 L42.97,234.13 L41.72,233.06 L43.37,232.93Z" fill="#8ccdf7" stroke="#25a0ee" stroke-width="0.8" stroke-linejoin="round"/>
<path d="M46.30,222.70 L46.93,224.23 L48.58,224.36 L47.33,225.43 L47.71,227.04 L46.30,226.18 L44.89,227.04 L45.27,225.43 L44.02,224.36 L45.67,224.23Z" fill="#8ccdf7" stroke="#25a0ee" stroke-width="0.8" stroke-linejoin="round"/>
<path d="M49.60,212.10 L50.23,213.63 L51.88,213.76 L50.63,214.83 L51.01,216.44 L49.60,215.58 L48.19,216.44 L48.57,214.83 L47.32,213.76 L48.97,213.63Z" fill="#8ccdf7" stroke="#25a0ee" stroke-width="0.8" stroke-linejoin="round"/>
<path d="M53.10,199.70 L53.73,201.23 L55.38,201.36 L54.13,202.43 L54.51,204.04 L53.10,203.18 L51.69,204.04 L52.07,202.43 L50.82,201.36 L52.47,201.23Z" fill="#8ccdf7" stroke="#25a0ee" stroke-width="0.8" stroke-linejoin="round"/>
<path d="M57.90,185.20 L58.53,186.73 L60.18,186.86 L58.93,187.93 L59.31,189.54 L57.90,188.68 L56.49,189.54 L56.87,187.93 L55.62,186.86 L57.27,186.73Z" fill="#8ccdf7" stroke="#25a0ee" stroke-width="0.8" stroke-linejoin="round"/>
<rect x="30.15" y="174.6" width="119.94999999999999" height="107.70000000000002" fill="none" stroke="#6a6a6a" stroke-width="1"/>
<line x1="30.40" y1="282.30" x2="30.40" y2="284.50" stroke="#6a6a6a" stroke-width="1" />
<line x1="60.20" y1="282.30" x2="60.20" y2="284.50" stroke="#6a6a6a" stroke-width="1" />
<line x1="90.00" y1="282.30" x2="90.00" y2="284.50" stroke="#6a6a6a" stroke-width="1" />
<line x1="119.80" y1="282.30" x2="119.80" y2="284.50" stroke="#6a6a6a" stroke-width="1" />
<line x1="149.60" y1="282.30" x2="149.60" y2="284.50" stroke="#6a6a6a" stroke-width="1" />
<line x1="45.30" y1="282.30" x2="45.30" y2="283.60" stroke="#6a6a6a" stroke-width="1" />
<line x1="75.10" y1="282.30" x2="75.10" y2="283.60" stroke="#6a6a6a" stroke-width="1" />
<line x1="104.90" y1="282.30" x2="104.90" y2="283.60" stroke="#6a6a6a" stroke-width="1" />
<line x1="134.70" y1="282.30" x2="134.70" y2="283.60" stroke="#6a6a6a" stroke-width="1" />
<text x="30.4" y="291.6" font-size="7.6" text-anchor="middle" fill="#262626" stroke="#262626" stroke-width="0.3"  style=""><tspan>0</tspan></text>
<text x="60.2" y="291.6" font-size="7.6" text-anchor="middle" fill="#262626" stroke="#262626" stroke-width="0.3"  style=""><tspan>20</tspan></text>
<text x="90.0" y="291.6" font-size="7.6" text-anchor="middle" fill="#262626" stroke="#262626" stroke-width="0.3"  style=""><tspan>40</tspan></text>
<text x="119.80000000000001" y="291.6" font-size="7.6" text-anchor="middle" fill="#262626" stroke="#262626" stroke-width="0.3"  style=""><tspan>60</tspan></text>
<text x="149.6" y="291.6" font-size="7.6" text-anchor="middle" fill="#262626" stroke="#262626" stroke-width="0.3"  style=""><tspan>80</tspan></text>
<line x1="30.15" y1="281.80" x2="27.95" y2="281.80" stroke="#6a6a6a" stroke-width="1" />
<line x1="30.15" y1="255.02" x2="27.95" y2="255.02" stroke="#6a6a6a" stroke-width="1" />
<line x1="30.15" y1="228.24" x2="27.95" y2="228.24" stroke="#6a6a6a" stroke-width="1" />
<line x1="30.15" y1="201.46" x2="27.95" y2="201.46" stroke="#6a6a6a" stroke-width="1" />
<line x1="30.15" y1="174.68" x2="27.95" y2="174.68" stroke="#6a6a6a" stroke-width="1" />
<line x1="30.15" y1="268.41" x2="28.85" y2="268.41" stroke="#6a6a6a" stroke-width="1" />
<line x1="30.15" y1="241.63" x2="28.85" y2="241.63" stroke="#6a6a6a" stroke-width="1" />
<line x1="30.15" y1="214.85" x2="28.85" y2="214.85" stroke="#6a6a6a" stroke-width="1" />
<line x1="30.15" y1="188.07" x2="28.85" y2="188.07" stroke="#6a6a6a" stroke-width="1" />
<text x="27" y="284.5" font-size="7.6" text-anchor="end" fill="#262626" stroke="#262626" stroke-width="0.3"  style=""><tspan>0</tspan></text>
<text x="27" y="257.72" font-size="7.6" text-anchor="end" fill="#262626" stroke="#262626" stroke-width="0.3"  style=""><tspan>20</tspan></text>
<text x="27" y="230.94" font-size="7.6" text-anchor="end" fill="#262626" stroke="#262626" stroke-width="0.3"  style=""><tspan>40</tspan></text>
<text x="27" y="204.16" font-size="7.6" text-anchor="end" fill="#262626" stroke="#262626" stroke-width="0.3"  style=""><tspan>60</tspan></text>
<text x="27" y="177.38" font-size="7.6" text-anchor="end" fill="#262626" stroke="#262626" stroke-width="0.3"  style=""><tspan>80</tspan></text>
<text x="98.6" y="303" font-size="7.5" text-anchor="middle" fill="#262626" stroke="#262626" stroke-width="0.3"  style=""><tspan>Z' (ohm)</tspan></text>
<text x="14.5" y="228" font-size="8.1" text-anchor="middle" fill="#262626" stroke="#262626" stroke-width="0.3" transform="rotate(-90 14.5 228)"  style=""><tspan>−Z '' (ohm)</tspan></text>
<text x="69.9" y="187.6" font-size="9.1" text-anchor="start" fill="#25a0ee" stroke="#25a0ee" stroke-width="0.3"  style=""><tspan>P–Ti</tspan><tspan dy="2.00" font-size="5.64">3</tspan><tspan dy="-2.00">C</tspan><tspan dy="2.00" font-size="5.64">2</tspan><tspan dy="-2.00">T</tspan><tspan dy="2.00" font-size="5.64">x</tspan></text>
<text x="89.5" y="206.3" font-size="8.0" text-anchor="start" fill="#f584c4" stroke="#f584c4" stroke-width="0.3"  style=""><tspan>Ti</tspan><tspan dy="1.76" font-size="4.96">3</tspan><tspan dy="-1.76">C</tspan><tspan dy="1.76" font-size="4.96">2</tspan><tspan dy="-1.76">T</tspan><tspan dy="1.76" font-size="4.96">x</tspan></text>
<rect x="85.9" y="219.6" width="60.0" height="53.70000000000002" fill="none" stroke="#777" stroke-width="1"/>
<line x1="85.90" y1="273.30" x2="85.90" y2="274.80" stroke="#6a6a6a" stroke-width="1" />
<line x1="115.90" y1="273.30" x2="115.90" y2="274.80" stroke="#6a6a6a" stroke-width="1" />
<line x1="145.90" y1="273.30" x2="145.90" y2="274.80" stroke="#6a6a6a" stroke-width="1" />
<line x1="100.90" y1="273.30" x2="100.90" y2="274.30" stroke="#6a6a6a" stroke-width="1" />
<line x1="130.90" y1="273.30" x2="130.90" y2="274.30" stroke="#6a6a6a" stroke-width="1" />
<text x="85.9" y="279.5" font-size="6" text-anchor="middle" fill="#262626" stroke="#262626" stroke-width="0.08"  style=""><tspan>0</tspan></text>
<text x="115.9" y="279.5" font-size="6" text-anchor="middle" fill="#262626" stroke="#262626" stroke-width="0.08"  style=""><tspan>1</tspan></text>
<text x="145.9" y="279.5" font-size="6" text-anchor="middle" fill="#262626" stroke="#262626" stroke-width="0.08"  style=""><tspan>2</tspan></text>
<line x1="85.90" y1="273.30" x2="84.40" y2="273.30" stroke="#6a6a6a" stroke-width="1" />
<line x1="85.90" y1="246.45" x2="84.40" y2="246.45" stroke="#6a6a6a" stroke-width="1" />
<line x1="85.90" y1="219.60" x2="84.40" y2="219.60" stroke="#6a6a6a" stroke-width="1" />
<line x1="85.90" y1="259.88" x2="84.90" y2="259.88" stroke="#6a6a6a" stroke-width="1" />
<line x1="85.90" y1="233.03" x2="84.90" y2="233.03" stroke="#6a6a6a" stroke-width="1" />
<text x="84.2" y="275.3" font-size="6" text-anchor="end" fill="#262626" stroke="#262626" stroke-width="0.08"  style=""><tspan>0</tspan></text>
<text x="84.2" y="248.45000000000002" font-size="6" text-anchor="end" fill="#262626" stroke="#262626" stroke-width="0.08"  style=""><tspan>1</tspan></text>
<text x="84.2" y="221.60000000000002" font-size="6" text-anchor="end" fill="#262626" stroke="#262626" stroke-width="0.08"  style=""><tspan>2</tspan></text>
<path d="M114.50,273.20 C114.68,272.87 115.10,271.90 115.60,271.20 C116.10,270.50 116.77,269.55 117.50,269.00 C118.23,268.45 119.17,268.07 120.00,267.90 C120.83,267.73 121.75,267.78 122.50,268.00 C123.25,268.22 123.92,268.70 124.50,269.20 C125.08,269.70 125.58,270.43 126.00,271.00 C126.42,271.57 126.67,272.27 127.00,272.60 C127.33,272.93 127.83,272.93 128.00,273.00" stroke="#f46cbc" stroke-width="2.0" fill="none" stroke-linejoin="round" stroke-linecap="round" />
<path d="M127.50,272.80 C127.67,272.50 127.68,272.05 128.50,271.00 C129.32,269.95 131.12,267.88 132.40,266.50 C133.68,265.12 135.03,264.08 136.20,262.70 C137.37,261.32 138.43,259.60 139.40,258.20 C140.37,256.80 141.13,255.60 142.00,254.30 C142.87,253.00 143.90,251.52 144.60,250.40 C145.30,249.28 145.93,248.07 146.20,247.60" stroke="#f46cbc" stroke-width="1.3" fill="none" stroke-linejoin="round" stroke-linecap="round" />
<path d="M115.80,273.20 C115.97,272.88 116.35,271.87 116.80,271.30 C117.25,270.73 117.88,270.12 118.50,269.80 C119.12,269.48 119.78,269.40 120.50,269.40 C121.22,269.40 122.08,269.53 122.80,269.80 C123.52,270.07 124.23,270.57 124.80,271.00 C125.37,271.43 125.85,272.07 126.20,272.40 C126.55,272.73 126.78,272.90 126.90,273.00" stroke="#25a0ee" stroke-width="2.0" fill="none" stroke-linejoin="round" stroke-linecap="round" />
<path d="M126.50,272.60 C126.82,271.93 127.75,269.93 128.40,268.60 C129.05,267.27 129.53,266.23 130.40,264.60 C131.27,262.97 132.63,260.52 133.60,258.80 C134.57,257.08 135.53,255.58 136.20,254.30 C136.87,253.02 137.10,252.28 137.60,251.10 C138.10,249.92 138.77,248.38 139.20,247.20 C139.63,246.02 139.83,245.18 140.20,244.00 C140.57,242.82 141.00,241.50 141.40,240.10 C141.80,238.70 142.28,237.37 142.60,235.60 C142.92,233.83 143.10,231.50 143.30,229.50 C143.50,227.50 143.68,225.25 143.80,223.60 C143.92,221.95 143.97,220.27 144.00,219.60" stroke="#25a0ee" stroke-width="1.3" fill="none" stroke-linejoin="round" stroke-linecap="round" />
<circle cx="128.4" cy="268.6" r="1.2" fill="#25a0ee"/>
<circle cx="130.4" cy="264.6" r="1.2" fill="#25a0ee"/>
<circle cx="133.6" cy="258.8" r="1.2" fill="#25a0ee"/>
<circle cx="136.2" cy="254.3" r="1.2" fill="#25a0ee"/>
<circle cx="137.6" cy="251.1" r="1.2" fill="#25a0ee"/>
<circle cx="139.2" cy="247.2" r="1.2" fill="#25a0ee"/>
<circle cx="140.2" cy="244.0" r="1.2" fill="#25a0ee"/>
<circle cx="141.4" cy="240.1" r="1.2" fill="#25a0ee"/>
<circle cx="142.6" cy="235.6" r="1.2" fill="#25a0ee"/>
<circle cx="143.3" cy="229.5" r="1.2" fill="#25a0ee"/>
<circle cx="143.8" cy="223.6" r="1.2" fill="#25a0ee"/>
<circle cx="144.0" cy="219.6" r="1.2" fill="#25a0ee"/>
<circle cx="128.5" cy="271.0" r="1.2" fill="#f46cbc"/>
<circle cx="132.4" cy="266.5" r="1.2" fill="#f46cbc"/>
<circle cx="136.2" cy="262.7" r="1.2" fill="#f46cbc"/>
<circle cx="139.4" cy="258.2" r="1.2" fill="#f46cbc"/>
<circle cx="142.0" cy="254.3" r="1.2" fill="#f46cbc"/>
<circle cx="144.6" cy="250.4" r="1.2" fill="#f46cbc"/>
<circle cx="146.2" cy="247.6" r="1.2" fill="#f46cbc"/>
</g>
<text x="154.2" y="167.3" font-size="11.5" text-anchor="start" fill="#262626" stroke="#262626" stroke-width="0.3"  style=""><tspan>(e)</tspan></text>
<clipPath id="ec"><rect x="185.4" y="174.6" width="121" height="107.9"/></clipPath>
<g clip-path="url(#ec)">
<path d="M190.50,259.70 C191.90,259.78 196.65,260.08 198.90,260.20 C201.15,260.32 202.50,260.37 204.00,260.40 C205.50,260.43 206.57,260.48 207.90,260.40 C209.23,260.32 210.72,260.15 212.00,259.90 C213.28,259.65 214.15,259.30 215.60,258.90 C217.05,258.50 219.20,257.87 220.70,257.50 C222.20,257.13 223.30,256.52 224.60,256.70 C225.90,256.88 227.00,257.55 228.50,258.60 C230.00,259.65 231.68,261.47 233.60,263.00 C235.52,264.53 237.93,266.47 240.00,267.80 C242.07,269.13 244.00,270.15 246.00,271.00 C248.00,271.85 249.67,272.43 252.00,272.90 C254.33,273.37 251.00,273.57 260.00,273.80 C269.00,274.03 298.33,274.22 306.00,274.30" stroke="#1e9ef0" stroke-width="2.8" fill="none" stroke-linejoin="round" stroke-linecap="round" />
<rect x="189.80" y="213.70" width="2.6" height="2.6" fill="#fff" stroke="#a8a8a8" stroke-width="0.75"/>
<rect x="191.45" y="215.35" width="2.6" height="2.6" fill="#fff" stroke="#a8a8a8" stroke-width="0.75"/>
<rect x="193.10" y="217.00" width="2.6" height="2.6" fill="#fff" stroke="#a8a8a8" stroke-width="0.75"/>
<rect x="194.75" y="218.65" width="2.6" height="2.6" fill="#fff" stroke="#a8a8a8" stroke-width="0.75"/>
<rect x="196.40" y="220.30" width="2.6" height="2.6" fill="#fff" stroke="#a8a8a8" stroke-width="0.75"/>
<rect x="198.05" y="221.95" width="2.6" height="2.6" fill="#fff" stroke="#a8a8a8" stroke-width="0.75"/>
<rect x="199.70" y="223.60" width="2.6" height="2.6" fill="#fff" stroke="#a8a8a8" stroke-width="0.75"/>
<rect x="201.35" y="225.25" width="2.6" height="2.6" fill="#fff" stroke="#a8a8a8" stroke-width="0.75"/>
<rect x="203.00" y="226.90" width="2.6" height="2.6" fill="#fff" stroke="#a8a8a8" stroke-width="0.75"/>
<rect x="204.65" y="228.55" width="2.6" height="2.6" fill="#fff" stroke="#a8a8a8" stroke-width="0.75"/>
<rect x="206.30" y="230.20" width="2.6" height="2.6" fill="#fff" stroke="#a8a8a8" stroke-width="0.75"/>
<rect x="207.95" y="231.85" width="2.6" height="2.6" fill="#fff" stroke="#a8a8a8" stroke-width="0.75"/>
<rect x="209.60" y="233.50" width="2.6" height="2.6" fill="#fff" stroke="#a8a8a8" stroke-width="0.75"/>
<rect x="211.25" y="235.15" width="2.6" height="2.6" fill="#fff" stroke="#a8a8a8" stroke-width="0.75"/>
<rect x="212.90" y="236.80" width="2.6" height="2.6" fill="#fff" stroke="#a8a8a8" stroke-width="0.75"/>
<rect x="214.55" y="238.45" width="2.6" height="2.6" fill="#fff" stroke="#a8a8a8" stroke-width="0.75"/>
<rect x="216.20" y="240.10" width="2.6" height="2.6" fill="#fff" stroke="#a8a8a8" stroke-width="0.75"/>
<rect x="217.85" y="241.75" width="2.6" height="2.6" fill="#fff" stroke="#a8a8a8" stroke-width="0.75"/>
<rect x="219.50" y="243.40" width="2.6" height="2.6" fill="#fff" stroke="#a8a8a8" stroke-width="0.75"/>
<rect x="221.20" y="245.20" width="2.6" height="2.6" fill="#fff" stroke="#a8a8a8" stroke-width="0.75"/>
<rect x="223.20" y="248.20" width="2.6" height="2.6" fill="#fff" stroke="#a8a8a8" stroke-width="0.75"/>
<rect x="225.20" y="251.70" width="2.6" height="2.6" fill="#fff" stroke="#a8a8a8" stroke-width="0.75"/>
<rect x="227.20" y="255.70" width="2.6" height="2.6" fill="#fff" stroke="#a8a8a8" stroke-width="0.75"/>
<rect x="229.20" y="259.20" width="2.6" height="2.6" fill="#fff" stroke="#a8a8a8" stroke-width="0.75"/>
<rect x="231.70" y="262.70" width="2.6" height="2.6" fill="#fff" stroke="#a8a8a8" stroke-width="0.75"/>
<rect x="234.20" y="265.50" width="2.6" height="2.6" fill="#fff" stroke="#a8a8a8" stroke-width="0.75"/>
<rect x="236.70" y="267.50" width="2.6" height="2.6" fill="#fff" stroke="#a8a8a8" stroke-width="0.75"/>
<rect x="239.70" y="269.30" width="2.6" height="2.6" fill="#fff" stroke="#a8a8a8" stroke-width="0.75"/>
<rect x="243.20" y="270.60" width="2.6" height="2.6" fill="#fff" stroke="#a8a8a8" stroke-width="0.75"/>
<rect x="246.70" y="271.40" width="2.6" height="2.6" fill="#fff" stroke="#a8a8a8" stroke-width="0.75"/>
<rect x="250.70" y="271.90" width="2.6" height="2.6" fill="#fff" stroke="#a8a8a8" stroke-width="0.75"/>
<rect x="254.70" y="272.10" width="2.6" height="2.6" fill="#fff" stroke="#a8a8a8" stroke-width="0.75"/>
<circle cx="191.40" cy="182.40" r="1.35" fill="#fff" stroke="#c29670" stroke-width="0.85"/>
<circle cx="193.10" cy="188.50" r="1.35" fill="#fff" stroke="#c29670" stroke-width="0.85"/>
<circle cx="194.80" cy="193.10" r="1.35" fill="#fff" stroke="#c29670" stroke-width="0.85"/>
<circle cx="196.30" cy="197.20" r="1.35" fill="#fff" stroke="#c29670" stroke-width="0.85"/>
<circle cx="197.80" cy="200.70" r="1.35" fill="#fff" stroke="#c29670" stroke-width="0.85"/>
<circle cx="199.50" cy="204.10" r="1.35" fill="#fff" stroke="#c29670" stroke-width="0.85"/>
<circle cx="201.20" cy="207.10" r="1.35" fill="#fff" stroke="#c29670" stroke-width="0.85"/>
<circle cx="202.70" cy="210.10" r="1.35" fill="#fff" stroke="#c29670" stroke-width="0.85"/>
<circle cx="204.70" cy="212.70" r="1.35" fill="#fff" stroke="#c29670" stroke-width="0.85"/>
<circle cx="206.30" cy="215.30" r="1.35" fill="#fff" stroke="#c29670" stroke-width="0.85"/>
<circle cx="207.95" cy="218.14" r="1.35" fill="#fff" stroke="#c29670" stroke-width="0.85"/>
<circle cx="209.60" cy="220.98" r="1.35" fill="#fff" stroke="#c29670" stroke-width="0.85"/>
<circle cx="211.25" cy="223.81" r="1.35" fill="#fff" stroke="#c29670" stroke-width="0.85"/>
<circle cx="212.90" cy="226.65" r="1.35" fill="#fff" stroke="#c29670" stroke-width="0.85"/>
<circle cx="214.55" cy="229.49" r="1.35" fill="#fff" stroke="#c29670" stroke-width="0.85"/>
<circle cx="216.20" cy="232.33" r="1.35" fill="#fff" stroke="#c29670" stroke-width="0.85"/>
<circle cx="217.85" cy="235.17" r="1.35" fill="#fff" stroke="#c29670" stroke-width="0.85"/>
<circle cx="219.50" cy="238.00" r="1.35" fill="#fff" stroke="#c29670" stroke-width="0.85"/>
<circle cx="221.15" cy="240.84" r="1.35" fill="#fff" stroke="#c29670" stroke-width="0.85"/>
<circle cx="222.80" cy="243.68" r="1.35" fill="#fff" stroke="#c29670" stroke-width="0.85"/>
<circle cx="224.45" cy="246.52" r="1.35" fill="#fff" stroke="#c29670" stroke-width="0.85"/>
<circle cx="226.00" cy="249.50" r="1.35" fill="#fff" stroke="#c29670" stroke-width="0.85"/>
<circle cx="228.00" cy="254.00" r="1.35" fill="#fff" stroke="#c29670" stroke-width="0.85"/>
<circle cx="230.00" cy="259.00" r="1.35" fill="#fff" stroke="#c29670" stroke-width="0.85"/>
<circle cx="232.00" cy="263.00" r="1.35" fill="#fff" stroke="#c29670" stroke-width="0.85"/>
<circle cx="234.00" cy="266.00" r="1.35" fill="#fff" stroke="#c29670" stroke-width="0.85"/>
<circle cx="236.50" cy="268.50" r="1.35" fill="#fff" stroke="#c29670" stroke-width="0.85"/>
<circle cx="239.00" cy="270.30" r="1.35" fill="#fff" stroke="#c29670" stroke-width="0.85"/>
<circle cx="242.00" cy="271.70" r="1.35" fill="#fff" stroke="#c29670" stroke-width="0.85"/>
<circle cx="246.00" cy="272.70" r="1.35" fill="#fff" stroke="#c29670" stroke-width="0.85"/>
<circle cx="250.00" cy="273.20" r="1.35" fill="#fff" stroke="#c29670" stroke-width="0.85"/>
<circle cx="255.00" cy="273.40" r="1.35" fill="#fff" stroke="#c29670" stroke-width="0.85"/>
<path d="M262.00,274.20 C269.33,274.20 298.67,274.20 306.00,274.20" stroke="#c29670" stroke-width="1.5" fill="none" stroke-linejoin="round" stroke-linecap="round" />
<path d="M204.00,245.30 C204.33,245.62 205.25,246.60 206.00,247.20 C206.75,247.80 207.58,248.38 208.50,248.90 C209.42,249.42 210.37,249.92 211.50,250.30 C212.63,250.68 213.72,251.07 215.30,251.20 C216.88,251.33 219.40,251.00 221.00,251.10 C222.60,251.20 223.45,251.20 224.90,251.80 C226.35,252.40 228.08,253.58 229.70,254.70 C231.32,255.82 233.13,257.28 234.60,258.50 C236.07,259.72 237.17,260.77 238.50,262.00 C239.83,263.23 241.08,264.67 242.60,265.90 C244.12,267.13 245.57,268.32 247.60,269.40 C249.63,270.48 251.90,271.65 254.80,272.40 C257.70,273.15 256.47,273.60 265.00,273.90 C273.53,274.20 299.17,274.15 306.00,274.20" stroke="#f54aa6" stroke-width="3.1" fill="none" stroke-linejoin="round" stroke-linecap="round" />
<circle cx="191.30" cy="214.00" r="1.5" fill="#f54aa6"/>
<circle cx="193.10" cy="218.50" r="1.5" fill="#f54aa6"/>
<circle cx="194.80" cy="223.40" r="1.5" fill="#f54aa6"/>
<circle cx="196.60" cy="229.20" r="1.5" fill="#f54aa6"/>
<circle cx="197.80" cy="233.30" r="1.5" fill="#f54aa6"/>
<circle cx="199.50" cy="237.10" r="1.5" fill="#f54aa6"/>
<circle cx="201.20" cy="240.50" r="1.5" fill="#f54aa6"/>
<circle cx="202.70" cy="243.30" r="1.5" fill="#f54aa6"/>
<circle cx="204.00" cy="245.60" r="1.5" fill="#f54aa6"/>
</g>
<line x1="224.00" y1="251.00" x2="246.00" y2="241.30" stroke="#222" stroke-width="0.9" stroke-dasharray="1.6,1.2"/>
<line x1="226.50" y1="257.50" x2="226.50" y2="274.60" stroke="#222" stroke-width="1.0" stroke-dasharray="1,1.2"/>
<rect x="185.5" y="174.6" width="120.5" height="107.79999999999998" fill="none" stroke="#6a6a6a" stroke-width="1"/>
<line x1="191.50" y1="282.40" x2="191.50" y2="284.60" stroke="#6a6a6a" stroke-width="1" />
<line x1="210.68" y1="282.40" x2="210.68" y2="284.60" stroke="#6a6a6a" stroke-width="1" />
<line x1="229.86" y1="282.40" x2="229.86" y2="284.60" stroke="#6a6a6a" stroke-width="1" />
<line x1="249.04" y1="282.40" x2="249.04" y2="284.60" stroke="#6a6a6a" stroke-width="1" />
<line x1="268.22" y1="282.40" x2="268.22" y2="284.60" stroke="#6a6a6a" stroke-width="1" />
<line x1="287.40" y1="282.40" x2="287.40" y2="284.60" stroke="#6a6a6a" stroke-width="1" />
<line x1="306.58" y1="282.40" x2="306.58" y2="284.60" stroke="#6a6a6a" stroke-width="1" />
<line x1="185.73" y1="282.40" x2="185.73" y2="283.60" stroke="#6a6a6a" stroke-width="1" />
<line x1="187.24" y1="282.40" x2="187.24" y2="283.60" stroke="#6a6a6a" stroke-width="1" />
<line x1="188.53" y1="282.40" x2="188.53" y2="283.60" stroke="#6a6a6a" stroke-width="1" />
<line x1="189.64" y1="282.40" x2="189.64" y2="283.60" stroke="#6a6a6a" stroke-width="1" />
<line x1="190.62" y1="282.40" x2="190.62" y2="283.60" stroke="#6a6a6a" stroke-width="1" />
<line x1="197.27" y1="282.40" x2="197.27" y2="283.60" stroke="#6a6a6a" stroke-width="1" />
<line x1="200.65" y1="282.40" x2="200.65" y2="283.60" stroke="#6a6a6a" stroke-width="1" />
<line x1="203.05" y1="282.40" x2="203.05" y2="283.60" stroke="#6a6a6a" stroke-width="1" />
<line x1="204.91" y1="282.40" x2="204.91" y2="283.60" stroke="#6a6a6a" stroke-width="1" />
<line x1="206.42" y1="282.40" x2="206.42" y2="283.60" stroke="#6a6a6a" stroke-width="1" />
<line x1="207.71" y1="282.40" x2="207.71" y2="283.60" stroke="#6a6a6a" stroke-width="1" />
<line x1="208.82" y1="282.40" x2="208.82" y2="283.60" stroke="#6a6a6a" stroke-width="1" />
<line x1="209.80" y1="282.40" x2="209.80" y2="283.60" stroke="#6a6a6a" stroke-width="1" />
<line x1="216.45" y1="282.40" x2="216.45" y2="283.60" stroke="#6a6a6a" stroke-width="1" />
<line x1="219.83" y1="282.40" x2="219.83" y2="283.60" stroke="#6a6a6a" stroke-width="1" />
<line x1="222.23" y1="282.40" x2="222.23" y2="283.60" stroke="#6a6a6a" stroke-width="1" />
<line x1="224.09" y1="282.40" x2="224.09" y2="283.60" stroke="#6a6a6a" stroke-width="1" />
<line x1="225.60" y1="282.40" x2="225.60" y2="283.60" stroke="#6a6a6a" stroke-width="1" />
<line x1="226.89" y1="282.40" x2="226.89" y2="283.60" stroke="#6a6a6a" stroke-width="1" />
<line x1="228.00" y1="282.40" x2="228.00" y2="283.60" stroke="#6a6a6a" stroke-width="1" />
<line x1="228.98" y1="282.40" x2="228.98" y2="283.60" stroke="#6a6a6a" stroke-width="1" />
<line x1="235.63" y1="282.40" x2="235.63" y2="283.60" stroke="#6a6a6a" stroke-width="1" />
<line x1="239.01" y1="282.40" x2="239.01" y2="283.60" stroke="#6a6a6a" stroke-width="1" />
<line x1="241.41" y1="282.40" x2="241.41" y2="283.60" stroke="#6a6a6a" stroke-width="1" />
<line x1="243.27" y1="282.40" x2="243.27" y2="283.60" stroke="#6a6a6a" stroke-width="1" />
<line x1="244.78" y1="282.40" x2="244.78" y2="283.60" stroke="#6a6a6a" stroke-width="1" />
<line x1="246.07" y1="282.40" x2="246.07" y2="283.60" stroke="#6a6a6a" stroke-width="1" />
<line x1="247.18" y1="282.40" x2="247.18" y2="283.60" stroke="#6a6a6a" stroke-width="1" />
<line x1="248.16" y1="282.40" x2="248.16" y2="283.60" stroke="#6a6a6a" stroke-width="1" />
<line x1="254.81" y1="282.40" x2="254.81" y2="283.60" stroke="#6a6a6a" stroke-width="1" />
<line x1="258.19" y1="282.40" x2="258.19" y2="283.60" stroke="#6a6a6a" stroke-width="1" />
<line x1="260.59" y1="282.40" x2="260.59" y2="283.60" stroke="#6a6a6a" stroke-width="1" />
<line x1="262.45" y1="282.40" x2="262.45" y2="283.60" stroke="#6a6a6a" stroke-width="1" />
<line x1="263.96" y1="282.40" x2="263.96" y2="283.60" stroke="#6a6a6a" stroke-width="1" />
<line x1="265.25" y1="282.40" x2="265.25" y2="283.60" stroke="#6a6a6a" stroke-width="1" />
<line x1="266.36" y1="282.40" x2="266.36" y2="283.60" stroke="#6a6a6a" stroke-width="1" />
<line x1="267.34" y1="282.40" x2="267.34" y2="283.60" stroke="#6a6a6a" stroke-width="1" />
<line x1="273.99" y1="282.40" x2="273.99" y2="283.60" stroke="#6a6a6a" stroke-width="1" />
<line x1="277.37" y1="282.40" x2="277.37" y2="283.60" stroke="#6a6a6a" stroke-width="1" />
<line x1="279.77" y1="282.40" x2="279.77" y2="283.60" stroke="#6a6a6a" stroke-width="1" />
<line x1="281.63" y1="282.40" x2="281.63" y2="283.60" stroke="#6a6a6a" stroke-width="1" />
<line x1="283.14" y1="282.40" x2="283.14" y2="283.60" stroke="#6a6a6a" stroke-width="1" />
<line x1="284.43" y1="282.40" x2="284.43" y2="283.60" stroke="#6a6a6a" stroke-width="1" />
<line x1="285.54" y1="282.40" x2="285.54" y2="283.60" stroke="#6a6a6a" stroke-width="1" />
<line x1="286.52" y1="282.40" x2="286.52" y2="283.60" stroke="#6a6a6a" stroke-width="1" />
<line x1="293.17" y1="282.40" x2="293.17" y2="283.60" stroke="#6a6a6a" stroke-width="1" />
<line x1="296.55" y1="282.40" x2="296.55" y2="283.60" stroke="#6a6a6a" stroke-width="1" />
<line x1="298.95" y1="282.40" x2="298.95" y2="283.60" stroke="#6a6a6a" stroke-width="1" />
<line x1="300.81" y1="282.40" x2="300.81" y2="283.60" stroke="#6a6a6a" stroke-width="1" />
<line x1="302.32" y1="282.40" x2="302.32" y2="283.60" stroke="#6a6a6a" stroke-width="1" />
<line x1="303.61" y1="282.40" x2="303.61" y2="283.60" stroke="#6a6a6a" stroke-width="1" />
<line x1="304.72" y1="282.40" x2="304.72" y2="283.60" stroke="#6a6a6a" stroke-width="1" />
<line x1="305.70" y1="282.40" x2="305.70" y2="283.60" stroke="#6a6a6a" stroke-width="1" />
<text x="191.5" y="292.4" font-size="7.2" text-anchor="middle" fill="#262626" stroke="#262626" stroke-width="0.22"  style=""><tspan>10</tspan><tspan dy="-3.02" dx="0.22" font-size="4.61">-2</tspan></text>
<text x="210.68" y="292.4" font-size="7.2" text-anchor="middle" fill="#262626" stroke="#262626" stroke-width="0.22"  style=""><tspan>10</tspan><tspan dy="-3.02" dx="0.22" font-size="4.61">-1</tspan></text>
<text x="229.86" y="292.4" font-size="7.2" text-anchor="middle" fill="#262626" stroke="#262626" stroke-width="0.22"  style=""><tspan>10</tspan><tspan dy="-3.02" dx="0.22" font-size="4.61">0</tspan></text>
<text x="249.04" y="292.4" font-size="7.2" text-anchor="middle" fill="#262626" stroke="#262626" stroke-width="0.22"  style=""><tspan>10</tspan><tspan dy="-3.02" dx="0.22" font-size="4.61">1</tspan></text>
<text x="268.22" y="292.4" font-size="7.2" text-anchor="middle" fill="#262626" stroke="#262626" stroke-width="0.22"  style=""><tspan>10</tspan><tspan dy="-3.02" dx="0.22" font-size="4.61">2</tspan></text>
<text x="287.4" y="292.4" font-size="7.2" text-anchor="middle" fill="#262626" stroke="#262626" stroke-width="0.22"  style=""><tspan>10</tspan><tspan dy="-3.02" dx="0.22" font-size="4.61">3</tspan></text>
<text x="306.58" y="292.4" font-size="7.2" text-anchor="middle" fill="#262626" stroke="#262626" stroke-width="0.22"  style=""><tspan>10</tspan><tspan dy="-3.02" dx="0.22" font-size="4.61">4</tspan></text>
<line x1="185.50" y1="273.40" x2="183.30" y2="273.40" stroke="#6a6a6a" stroke-width="1" />
<line x1="185.50" y1="256.85" x2="183.30" y2="256.85" stroke="#6a6a6a" stroke-width="1" />
<line x1="185.50" y1="240.30" x2="183.30" y2="240.30" stroke="#6a6a6a" stroke-width="1" />
<line x1="185.50" y1="223.75" x2="183.30" y2="223.75" stroke="#6a6a6a" stroke-width="1" />
<line x1="185.50" y1="207.20" x2="183.30" y2="207.20" stroke="#6a6a6a" stroke-width="1" />
<line x1="185.50" y1="190.65" x2="183.30" y2="190.65" stroke="#6a6a6a" stroke-width="1" />
<line x1="185.50" y1="174.10" x2="183.30" y2="174.10" stroke="#6a6a6a" stroke-width="1" />
<line x1="185.50" y1="265.12" x2="184.20" y2="265.12" stroke="#6a6a6a" stroke-width="1" />
<line x1="185.50" y1="248.57" x2="184.20" y2="248.57" stroke="#6a6a6a" stroke-width="1" />
<line x1="185.50" y1="232.02" x2="184.20" y2="232.02" stroke="#6a6a6a" stroke-width="1" />
<line x1="185.50" y1="215.47" x2="184.20" y2="215.47" stroke="#6a6a6a" stroke-width="1" />
<line x1="185.50" y1="198.92" x2="184.20" y2="198.92" stroke="#6a6a6a" stroke-width="1" />
<line x1="185.50" y1="182.37" x2="184.20" y2="182.37" stroke="#6a6a6a" stroke-width="1" />
<text x="182.3" y="275.9" font-size="7.9" text-anchor="end" fill="#262626" stroke="#262626" stroke-width="0.3"  style=""><tspan>0</tspan></text>
<text x="182.3" y="259.34999999999997" font-size="7.9" text-anchor="end" fill="#262626" stroke="#262626" stroke-width="0.3"  style=""><tspan>100</tspan></text>
<text x="182.3" y="242.79999999999998" font-size="7.9" text-anchor="end" fill="#262626" stroke="#262626" stroke-width="0.3"  style=""><tspan>200</tspan></text>
<text x="182.3" y="226.24999999999997" font-size="7.9" text-anchor="end" fill="#262626" stroke="#262626" stroke-width="0.3"  style=""><tspan>300</tspan></text>
<text x="182.3" y="209.7" font-size="7.9" text-anchor="end" fill="#262626" stroke="#262626" stroke-width="0.3"  style=""><tspan>400</tspan></text>
<text x="182.3" y="193.14999999999998" font-size="7.9" text-anchor="end" fill="#262626" stroke="#262626" stroke-width="0.3"  style=""><tspan>500</tspan></text>
<text x="182.3" y="176.59999999999997" font-size="7.9" text-anchor="end" fill="#262626" stroke="#262626" stroke-width="0.3"  style=""><tspan>600</tspan></text>
<text x="246" y="305" font-size="7.9" text-anchor="middle" fill="#262626" stroke="#262626" stroke-width="0.3"  style=""><tspan>Frequency (Hz)</tspan></text>
<text x="164.6" y="225.7" font-size="7.9" text-anchor="middle" fill="#262626" stroke="#262626" stroke-width="0.3" transform="rotate(-90 164.6 225.7)"  style=""><tspan>Normalized C</tspan></text>
<text x="188.6" y="274.6" font-size="7.6" text-anchor="start" fill="#1e9ef0" stroke="#1e9ef0" stroke-width="0.3"  style=""><tspan font-style="italic">f</tspan><tspan dy="1.67" font-size="4.71">0</tspan><tspan dy="-1.67">=0.562 Hz</tspan></text>
<text x="232.7" y="240.4" font-size="7.6" text-anchor="start" fill="#f54aa6" stroke="#f54aa6" stroke-width="0.3"  style=""><tspan font-style="italic">f</tspan><tspan dy="1.67" font-size="4.71">0</tspan><tspan dy="-1.67">=0.316 Hz</tspan></text>
<rect x="248.9" y="180.2" width="2.8" height="2.8" fill="#fff" stroke="#a8a8a8" stroke-width="0.75"/>
<text x="258.3" y="184" font-size="6.3" text-anchor="start" fill="#262626" stroke="#262626" stroke-width="0.08"  style=""><tspan>C</tspan><tspan dy="1.39" font-size="3.91">Re</tspan><tspan dy="-1.39"> (P–Ti</tspan><tspan dy="1.39" font-size="3.91">3</tspan><tspan dy="-1.39">C</tspan><tspan dy="1.39" font-size="3.91">2</tspan><tspan dy="-1.39">T</tspan><tspan dy="1.39" font-size="3.91">x</tspan><tspan dy="-1.39">)</tspan></text>
<rect x="248.7" y="190.2" width="3.2" height="3.2" fill="#1e9ef0"/>
<text x="258.3" y="194.2" font-size="6.3" text-anchor="start" fill="#262626" stroke="#262626" stroke-width="0.08"  style=""><tspan>C</tspan><tspan dy="1.39" font-size="3.91">Im</tspan><tspan dy="-1.39"> (P–Ti</tspan><tspan dy="1.39" font-size="3.91">3</tspan><tspan dy="-1.39">C</tspan><tspan dy="1.39" font-size="3.91">2</tspan><tspan dy="-1.39">T</tspan><tspan dy="1.39" font-size="3.91">x</tspan><tspan dy="-1.39">)</tspan></text>
<circle cx="258.3" cy="202.4" r="1.4" fill="#fff" stroke="#c29670" stroke-width="0.85"/>
<text x="267.1" y="204.8" font-size="6.3" text-anchor="start" fill="#262626" stroke="#262626" stroke-width="0.08"  style=""><tspan>C</tspan><tspan dy="1.39" font-size="3.91">Re</tspan><tspan dy="-1.39"> (Ti</tspan><tspan dy="1.39" font-size="3.91">3</tspan><tspan dy="-1.39">C</tspan><tspan dy="1.39" font-size="3.91">2</tspan><tspan dy="-1.39">T</tspan><tspan dy="1.39" font-size="3.91">x</tspan><tspan dy="-1.39">)</tspan></text>
<circle cx="258.3" cy="212.7" r="1.8" fill="#f54aa6"/>
<text x="267.1" y="215.1" font-size="6.3" text-anchor="start" fill="#262626" stroke="#262626" stroke-width="0.08"  style=""><tspan>C</tspan><tspan dy="1.39" font-size="3.91">Im</tspan><tspan dy="-1.39"> (Ti</tspan><tspan dy="1.39" font-size="3.91">3</tspan><tspan dy="-1.39">C</tspan><tspan dy="1.39" font-size="3.91">2</tspan><tspan dy="-1.39">T</tspan><tspan dy="1.39" font-size="3.91">x</tspan><tspan dy="-1.39">)</tspan></text>
<text x="311" y="166.1" font-size="11.2" text-anchor="start" fill="#262626" stroke="#262626" stroke-width="0.3"  style=""><tspan>(f)</tspan></text>
<path d="M333.80,206.37 L337.76,204.17 L337.76,208.57Z" fill="#fcc590" stroke="#f8a050" stroke-width="0.75"/>
<path d="M337.46,207.11 L341.42,204.91 L341.42,209.31Z" fill="#fcc590" stroke="#f8a050" stroke-width="0.75"/>
<path d="M341.11,206.69 L345.07,204.49 L345.07,208.89Z" fill="#fcc590" stroke="#f8a050" stroke-width="0.75"/>
<path d="M344.77,207.25 L348.73,205.05 L348.73,209.45Z" fill="#fcc590" stroke="#f8a050" stroke-width="0.75"/>
<path d="M348.43,207.30 L352.39,205.10 L352.39,209.50Z" fill="#fcc590" stroke="#f8a050" stroke-width="0.75"/>
<path d="M352.09,205.96 L356.05,203.76 L356.05,208.16Z" fill="#fcc590" stroke="#f8a050" stroke-width="0.75"/>
<path d="M355.74,205.83 L359.70,203.63 L359.70,208.03Z" fill="#fcc590" stroke="#f8a050" stroke-width="0.75"/>
<path d="M359.40,207.81 L363.36,205.61 L363.36,210.01Z" fill="#fcc590" stroke="#f8a050" stroke-width="0.75"/>
<path d="M363.06,206.42 L367.02,204.22 L367.02,208.62Z" fill="#fcc590" stroke="#f8a050" stroke-width="0.75"/>
<path d="M366.71,206.36 L370.67,204.16 L370.67,208.56Z" fill="#fcc590" stroke="#f8a050" stroke-width="0.75"/>
<path d="M370.37,208.19 L374.33,205.99 L374.33,210.39Z" fill="#fcc590" stroke="#f8a050" stroke-width="0.75"/>
<path d="M374.03,206.93 L377.99,204.73 L377.99,209.13Z" fill="#fcc590" stroke="#f8a050" stroke-width="0.75"/>
<path d="M377.68,203.90 L381.64,201.70 L381.64,206.10Z" fill="#fcc590" stroke="#f8a050" stroke-width="0.75"/>
<path d="M381.34,208.60 L385.30,206.40 L385.30,210.80Z" fill="#fcc590" stroke="#f8a050" stroke-width="0.75"/>
<path d="M385.00,207.33 L388.96,205.13 L388.96,209.53Z" fill="#fcc590" stroke="#f8a050" stroke-width="0.75"/>
<path d="M388.66,206.16 L392.62,203.96 L392.62,208.36Z" fill="#fcc590" stroke="#f8a050" stroke-width="0.75"/>
<path d="M392.31,207.32 L396.27,205.12 L396.27,209.52Z" fill="#fcc590" stroke="#f8a050" stroke-width="0.75"/>
<path d="M395.97,207.88 L399.93,205.68 L399.93,210.08Z" fill="#fcc590" stroke="#f8a050" stroke-width="0.75"/>
<path d="M399.63,207.06 L403.59,204.86 L403.59,209.26Z" fill="#fcc590" stroke="#f8a050" stroke-width="0.75"/>
<path d="M403.28,210.00 L407.24,207.80 L407.24,212.20Z" fill="#fcc590" stroke="#f8a050" stroke-width="0.75"/>
<path d="M406.94,205.30 L410.90,203.10 L410.90,207.50Z" fill="#fcc590" stroke="#f8a050" stroke-width="0.75"/>
<path d="M410.60,205.95 L414.56,203.75 L414.56,208.15Z" fill="#fcc590" stroke="#f8a050" stroke-width="0.75"/>
<path d="M414.25,207.62 L418.21,205.42 L418.21,209.82Z" fill="#fcc590" stroke="#f8a050" stroke-width="0.75"/>
<path d="M417.91,207.22 L421.87,205.02 L421.87,209.42Z" fill="#fcc590" stroke="#f8a050" stroke-width="0.75"/>
<path d="M421.57,206.52 L425.53,204.32 L425.53,208.72Z" fill="#fcc590" stroke="#f8a050" stroke-width="0.75"/>
<path d="M425.23,205.87 L429.19,203.67 L429.19,208.07Z" fill="#fcc590" stroke="#f8a050" stroke-width="0.75"/>
<path d="M428.88,207.88 L432.84,205.68 L432.84,210.08Z" fill="#fcc590" stroke="#f8a050" stroke-width="0.75"/>
<path d="M432.54,206.93 L436.50,204.73 L436.50,209.13Z" fill="#fcc590" stroke="#f8a050" stroke-width="0.75"/>
<path d="M436.20,207.53 L440.16,205.33 L440.16,209.73Z" fill="#fcc590" stroke="#f8a050" stroke-width="0.75"/>
<path d="M439.85,205.20 L443.81,203.00 L443.81,207.40Z" fill="#fcc590" stroke="#f8a050" stroke-width="0.75"/>
<path d="M443.51,207.51 L447.47,205.31 L447.47,209.71Z" fill="#fcc590" stroke="#f8a050" stroke-width="0.75"/>
<path d="M447.17,208.01 L451.13,205.81 L451.13,210.21Z" fill="#fcc590" stroke="#f8a050" stroke-width="0.75"/>
<path d="M450.82,206.75 L454.78,204.55 L454.78,208.95Z" fill="#fcc590" stroke="#f8a050" stroke-width="0.75"/>
<path d="M454.48,207.72 L458.44,205.52 L458.44,209.92Z" fill="#fcc590" stroke="#f8a050" stroke-width="0.75"/>
<path d="M458.14,206.87 L462.10,204.67 L462.10,209.07Z" fill="#fcc590" stroke="#f8a050" stroke-width="0.75"/>
<path d="M461.80,208.05 L465.75,205.85 L465.75,210.25Z" fill="#fcc590" stroke="#f8a050" stroke-width="0.75"/>
<path d="M465.45,207.91 L469.41,205.71 L469.41,210.11Z" fill="#fcc590" stroke="#f8a050" stroke-width="0.75"/>
<path d="M469.11,206.03 L473.07,203.83 L473.07,208.23Z" fill="#fcc590" stroke="#f8a050" stroke-width="0.75"/>
<path d="M472.77,206.13 L476.73,203.93 L476.73,208.33Z" fill="#fcc590" stroke="#f8a050" stroke-width="0.75"/>
<path d="M476.42,206.32 L480.38,204.12 L480.38,208.52Z" fill="#fcc590" stroke="#f8a050" stroke-width="0.75"/>
<path d="M480.08,208.12 L484.04,205.92 L484.04,210.32Z" fill="#fcc590" stroke="#f8a050" stroke-width="0.75"/>
<path d="M483.74,206.85 L487.70,204.65 L487.70,209.05Z" fill="#fcc590" stroke="#f8a050" stroke-width="0.75"/>
<path d="M487.39,207.30 L491.35,205.10 L491.35,209.50Z" fill="#fcc590" stroke="#f8a050" stroke-width="0.75"/>
<path d="M491.05,206.52 L495.01,204.32 L495.01,208.72Z" fill="#fcc590" stroke="#f8a050" stroke-width="0.75"/>
<path d="M494.71,207.02 L498.67,204.82 L498.67,209.22Z" fill="#fcc590" stroke="#f8a050" stroke-width="0.75"/>
<path d="M498.37,206.73 L502.32,204.53 L502.32,208.93Z" fill="#fcc590" stroke="#f8a050" stroke-width="0.75"/>
<path d="M502.02,206.64 L505.98,204.44 L505.98,208.84Z" fill="#fcc590" stroke="#f8a050" stroke-width="0.75"/>
<path d="M505.68,207.20 L509.64,205.00 L509.64,209.40Z" fill="#fcc590" stroke="#f8a050" stroke-width="0.75"/>
<path d="M509.34,207.20 L513.30,205.00 L513.30,209.40Z" fill="#fcc590" stroke="#f8a050" stroke-width="0.75"/>
<path d="M512.99,207.97 L516.95,205.77 L516.95,210.17Z" fill="#fcc590" stroke="#f8a050" stroke-width="0.75"/>
<circle cx="336.00" cy="190.90" r="1.6" fill="#b4defc" stroke="#1e98f0" stroke-width="1.0"/>
<circle cx="339.66" cy="190.90" r="1.6" fill="#b4defc" stroke="#1e98f0" stroke-width="1.0"/>
<circle cx="343.31" cy="193.80" r="1.6" fill="#b4defc" stroke="#1e98f0" stroke-width="1.0"/>
<circle cx="346.97" cy="191.60" r="1.6" fill="#b4defc" stroke="#1e98f0" stroke-width="1.0"/>
<circle cx="350.63" cy="193.80" r="1.6" fill="#b4defc" stroke="#1e98f0" stroke-width="1.0"/>
<circle cx="354.29" cy="192.60" r="1.6" fill="#b4defc" stroke="#1e98f0" stroke-width="1.0"/>
<circle cx="357.94" cy="191.60" r="1.6" fill="#b4defc" stroke="#1e98f0" stroke-width="1.0"/>
<circle cx="361.60" cy="192.40" r="1.6" fill="#b4defc" stroke="#1e98f0" stroke-width="1.0"/>
<circle cx="365.26" cy="192.60" r="1.6" fill="#b4defc" stroke="#1e98f0" stroke-width="1.0"/>
<circle cx="368.91" cy="193.10" r="1.6" fill="#b4defc" stroke="#1e98f0" stroke-width="1.0"/>
<circle cx="372.57" cy="191.60" r="1.6" fill="#b4defc" stroke="#1e98f0" stroke-width="1.0"/>
<circle cx="376.23" cy="192.80" r="1.6" fill="#b4defc" stroke="#1e98f0" stroke-width="1.0"/>
<circle cx="379.88" cy="190.50" r="1.6" fill="#b4defc" stroke="#1e98f0" stroke-width="1.0"/>
<circle cx="383.54" cy="193.40" r="1.6" fill="#b4defc" stroke="#1e98f0" stroke-width="1.0"/>
<circle cx="387.20" cy="191.60" r="1.6" fill="#b4defc" stroke="#1e98f0" stroke-width="1.0"/>
<circle cx="390.86" cy="194.00" r="1.6" fill="#b4defc" stroke="#1e98f0" stroke-width="1.0"/>
<circle cx="394.51" cy="192.80" r="1.6" fill="#b4defc" stroke="#1e98f0" stroke-width="1.0"/>
<circle cx="398.17" cy="192.40" r="1.6" fill="#b4defc" stroke="#1e98f0" stroke-width="1.0"/>
<circle cx="401.83" cy="192.10" r="1.6" fill="#b4defc" stroke="#1e98f0" stroke-width="1.0"/>
<circle cx="405.48" cy="194.80" r="1.6" fill="#b4defc" stroke="#1e98f0" stroke-width="1.0"/>
<circle cx="409.14" cy="192.60" r="1.6" fill="#b4defc" stroke="#1e98f0" stroke-width="1.0"/>
<circle cx="412.80" cy="192.40" r="1.6" fill="#b4defc" stroke="#1e98f0" stroke-width="1.0"/>
<circle cx="416.45" cy="192.60" r="1.6" fill="#b4defc" stroke="#1e98f0" stroke-width="1.0"/>
<circle cx="420.11" cy="192.40" r="1.6" fill="#b4defc" stroke="#1e98f0" stroke-width="1.0"/>
<circle cx="423.77" cy="191.60" r="1.6" fill="#b4defc" stroke="#1e98f0" stroke-width="1.0"/>
<circle cx="427.43" cy="193.40" r="1.6" fill="#b4defc" stroke="#1e98f0" stroke-width="1.0"/>
<circle cx="431.08" cy="192.10" r="1.6" fill="#b4defc" stroke="#1e98f0" stroke-width="1.0"/>
<circle cx="434.74" cy="194.50" r="1.6" fill="#b4defc" stroke="#1e98f0" stroke-width="1.0"/>
<circle cx="438.40" cy="192.10" r="1.6" fill="#b4defc" stroke="#1e98f0" stroke-width="1.0"/>
<circle cx="442.05" cy="193.80" r="1.6" fill="#b4defc" stroke="#1e98f0" stroke-width="1.0"/>
<circle cx="445.71" cy="194.00" r="1.6" fill="#b4defc" stroke="#1e98f0" stroke-width="1.0"/>
<circle cx="449.37" cy="195.50" r="1.6" fill="#b4defc" stroke="#1e98f0" stroke-width="1.0"/>
<circle cx="453.02" cy="194.50" r="1.6" fill="#b4defc" stroke="#1e98f0" stroke-width="1.0"/>
<circle cx="456.68" cy="192.40" r="1.6" fill="#b4defc" stroke="#1e98f0" stroke-width="1.0"/>
<circle cx="460.34" cy="194.30" r="1.6" fill="#b4defc" stroke="#1e98f0" stroke-width="1.0"/>
<circle cx="464.00" cy="194.50" r="1.6" fill="#b4defc" stroke="#1e98f0" stroke-width="1.0"/>
<circle cx="467.65" cy="196.30" r="1.6" fill="#b4defc" stroke="#1e98f0" stroke-width="1.0"/>
<circle cx="471.31" cy="196.50" r="1.6" fill="#b4defc" stroke="#1e98f0" stroke-width="1.0"/>
<circle cx="474.97" cy="195.00" r="1.6" fill="#b4defc" stroke="#1e98f0" stroke-width="1.0"/>
<circle cx="478.62" cy="194.00" r="1.6" fill="#b4defc" stroke="#1e98f0" stroke-width="1.0"/>
<circle cx="482.28" cy="195.60" r="1.6" fill="#b4defc" stroke="#1e98f0" stroke-width="1.0"/>
<circle cx="485.94" cy="196.50" r="1.6" fill="#b4defc" stroke="#1e98f0" stroke-width="1.0"/>
<circle cx="489.59" cy="197.50" r="1.6" fill="#b4defc" stroke="#1e98f0" stroke-width="1.0"/>
<circle cx="493.25" cy="196.40" r="1.6" fill="#b4defc" stroke="#1e98f0" stroke-width="1.0"/>
<circle cx="496.91" cy="196.60" r="1.6" fill="#b4defc" stroke="#1e98f0" stroke-width="1.0"/>
<circle cx="500.56" cy="198.50" r="1.6" fill="#b4defc" stroke="#1e98f0" stroke-width="1.0"/>
<circle cx="504.22" cy="199.30" r="1.6" fill="#b4defc" stroke="#1e98f0" stroke-width="1.0"/>
<circle cx="507.88" cy="200.60" r="1.6" fill="#b4defc" stroke="#1e98f0" stroke-width="1.0"/>
<circle cx="511.54" cy="199.00" r="1.6" fill="#b4defc" stroke="#1e98f0" stroke-width="1.0"/>
<circle cx="515.19" cy="199.00" r="1.6" fill="#b4defc" stroke="#1e98f0" stroke-width="1.0"/>
<rect x="334.45" y="174.5" width="184.40000000000003" height="108.69999999999999" fill="none" stroke="#6a6a6a" stroke-width="1"/>
<line x1="336.20" y1="283.20" x2="336.20" y2="285.40" stroke="#6a6a6a" stroke-width="1" />
<line x1="372.77" y1="283.20" x2="372.77" y2="285.40" stroke="#6a6a6a" stroke-width="1" />
<line x1="409.34" y1="283.20" x2="409.34" y2="285.40" stroke="#6a6a6a" stroke-width="1" />
<line x1="445.91" y1="283.20" x2="445.91" y2="285.40" stroke="#6a6a6a" stroke-width="1" />
<line x1="482.48" y1="283.20" x2="482.48" y2="285.40" stroke="#6a6a6a" stroke-width="1" />
<line x1="519.05" y1="283.20" x2="519.05" y2="285.40" stroke="#6a6a6a" stroke-width="1" />
<line x1="354.49" y1="283.20" x2="354.49" y2="284.50" stroke="#6a6a6a" stroke-width="1" />
<line x1="391.06" y1="283.20" x2="391.06" y2="284.50" stroke="#6a6a6a" stroke-width="1" />
<line x1="427.62" y1="283.20" x2="427.62" y2="284.50" stroke="#6a6a6a" stroke-width="1" />
<line x1="464.19" y1="283.20" x2="464.19" y2="284.50" stroke="#6a6a6a" stroke-width="1" />
<line x1="500.76" y1="283.20" x2="500.76" y2="284.50" stroke="#6a6a6a" stroke-width="1" />
<text x="336.2" y="291.6" font-size="6.9" text-anchor="middle" fill="#262626" stroke="#262626" stroke-width="0.22"  style=""><tspan>0</tspan></text>
<text x="372.77" y="291.6" font-size="6.9" text-anchor="middle" fill="#262626" stroke="#262626" stroke-width="0.22"  style=""><tspan>2000</tspan></text>
<text x="409.34" y="291.6" font-size="6.9" text-anchor="middle" fill="#262626" stroke="#262626" stroke-width="0.22"  style=""><tspan>4000</tspan></text>
<text x="445.90999999999997" y="291.6" font-size="6.9" text-anchor="middle" fill="#262626" stroke="#262626" stroke-width="0.22"  style=""><tspan>6000</tspan></text>
<text x="482.48" y="291.6" font-size="6.9" text-anchor="middle" fill="#262626" stroke="#262626" stroke-width="0.22"  style=""><tspan>8000</tspan></text>
<text x="519.05" y="291.6" font-size="6.9" text-anchor="middle" fill="#262626" stroke="#262626" stroke-width="0.22"  style=""><tspan>10,000</tspan></text>
<line x1="334.45" y1="274.80" x2="332.25" y2="274.80" stroke="#6a6a6a" stroke-width="1" />
<line x1="334.45" y1="241.06" x2="332.25" y2="241.06" stroke="#6a6a6a" stroke-width="1" />
<line x1="334.45" y1="207.32" x2="332.25" y2="207.32" stroke="#6a6a6a" stroke-width="1" />
<line x1="334.45" y1="173.58" x2="332.25" y2="173.58" stroke="#6a6a6a" stroke-width="1" />
<line x1="334.45" y1="257.93" x2="333.15" y2="257.93" stroke="#6a6a6a" stroke-width="1" />
<line x1="334.45" y1="224.19" x2="333.15" y2="224.19" stroke="#6a6a6a" stroke-width="1" />
<line x1="334.45" y1="190.45" x2="333.15" y2="190.45" stroke="#6a6a6a" stroke-width="1" />
<text x="331.5" y="277.3" font-size="6.9" text-anchor="end" fill="#262626" stroke="#262626" stroke-width="0.22"  style=""><tspan>0</tspan></text>
<text x="331.5" y="243.56" font-size="6.9" text-anchor="end" fill="#262626" stroke="#262626" stroke-width="0.22"  style=""><tspan>40</tspan></text>
<text x="331.5" y="209.82" font-size="6.9" text-anchor="end" fill="#262626" stroke="#262626" stroke-width="0.22"  style=""><tspan>80</tspan></text>
<text x="331.5" y="176.08" font-size="6.9" text-anchor="end" fill="#262626" stroke="#262626" stroke-width="0.22"  style=""><tspan>120</tspan></text>
<line x1="518.85" y1="282.60" x2="521.05" y2="282.60" stroke="#6a6a6a" stroke-width="1" />
<line x1="518.85" y1="246.42" x2="521.05" y2="246.42" stroke="#6a6a6a" stroke-width="1" />
<line x1="518.85" y1="210.23" x2="521.05" y2="210.23" stroke="#6a6a6a" stroke-width="1" />
<line x1="518.85" y1="174.05" x2="521.05" y2="174.05" stroke="#6a6a6a" stroke-width="1" />
<line x1="518.85" y1="264.51" x2="520.15" y2="264.51" stroke="#6a6a6a" stroke-width="1" />
<line x1="518.85" y1="228.32" x2="520.15" y2="228.32" stroke="#6a6a6a" stroke-width="1" />
<line x1="518.85" y1="192.14" x2="520.15" y2="192.14" stroke="#6a6a6a" stroke-width="1" />
<text x="522" y="285.1" font-size="6.9" text-anchor="start" fill="#262626" stroke="#262626" stroke-width="0.22"  style=""><tspan>0</tspan></text>
<text x="522" y="248.91500000000002" font-size="6.9" text-anchor="start" fill="#262626" stroke="#262626" stroke-width="0.22"  style=""><tspan>50</tspan></text>
<text x="522" y="212.73000000000002" font-size="6.9" text-anchor="start" fill="#262626" stroke="#262626" stroke-width="0.22"  style=""><tspan>100</tspan></text>
<text x="522" y="176.54500000000002" font-size="6.9" text-anchor="start" fill="#262626" stroke="#262626" stroke-width="0.22"  style=""><tspan>150</tspan></text>
<text x="428.7" y="303.5" font-size="7.3" text-anchor="middle" fill="#262626" stroke="#262626" stroke-width="0.22"  style=""><tspan>Cycle number</tspan></text>
<text x="320.3" y="228.5" font-size="7.4" text-anchor="middle" fill="#262626" stroke="#262626" stroke-width="0.22" transform="rotate(-90 320.3 228.5)"  style=""><tspan>Capacitance retention (%)</tspan></text>
<text x="542.6" y="226.5" font-size="7.3" text-anchor="middle" fill="#262626" stroke="#262626" stroke-width="0.22" transform="rotate(-90 542.6 226.5)"  style=""><tspan>Coulombic efficiency (%)</tspan></text>
<circle cx="386.2" cy="232" r="1.6" fill="#b4defc" stroke="#1e98f0" stroke-width="1.0"/>
<path d="M384.0,242.1 L387.9,239.9 L387.9,244.3Z" fill="#fcc590" stroke="#f8a050" stroke-width="0.7"/>
<text x="397.7" y="234.5" font-size="7.1" text-anchor="start" fill="#262626" stroke="#262626" stroke-width="0.22"  style=""><tspan>Capacitance retention</tspan></text>
<text x="397.7" y="244.8" font-size="7.1" text-anchor="start" fill="#262626" stroke="#262626" stroke-width="0.22"  style=""><tspan>Coulombic efficiency</tspan></text>
<text x="468" y="264.5" font-size="7.1" text-anchor="start" fill="#262626" stroke="#262626" stroke-width="0.22"  style=""><tspan>@ 20 A g</tspan><tspan dy="-2.70" dx="0.57" font-size="4.69">−1</tspan></text>
</g>
</svg>
</body></html>
